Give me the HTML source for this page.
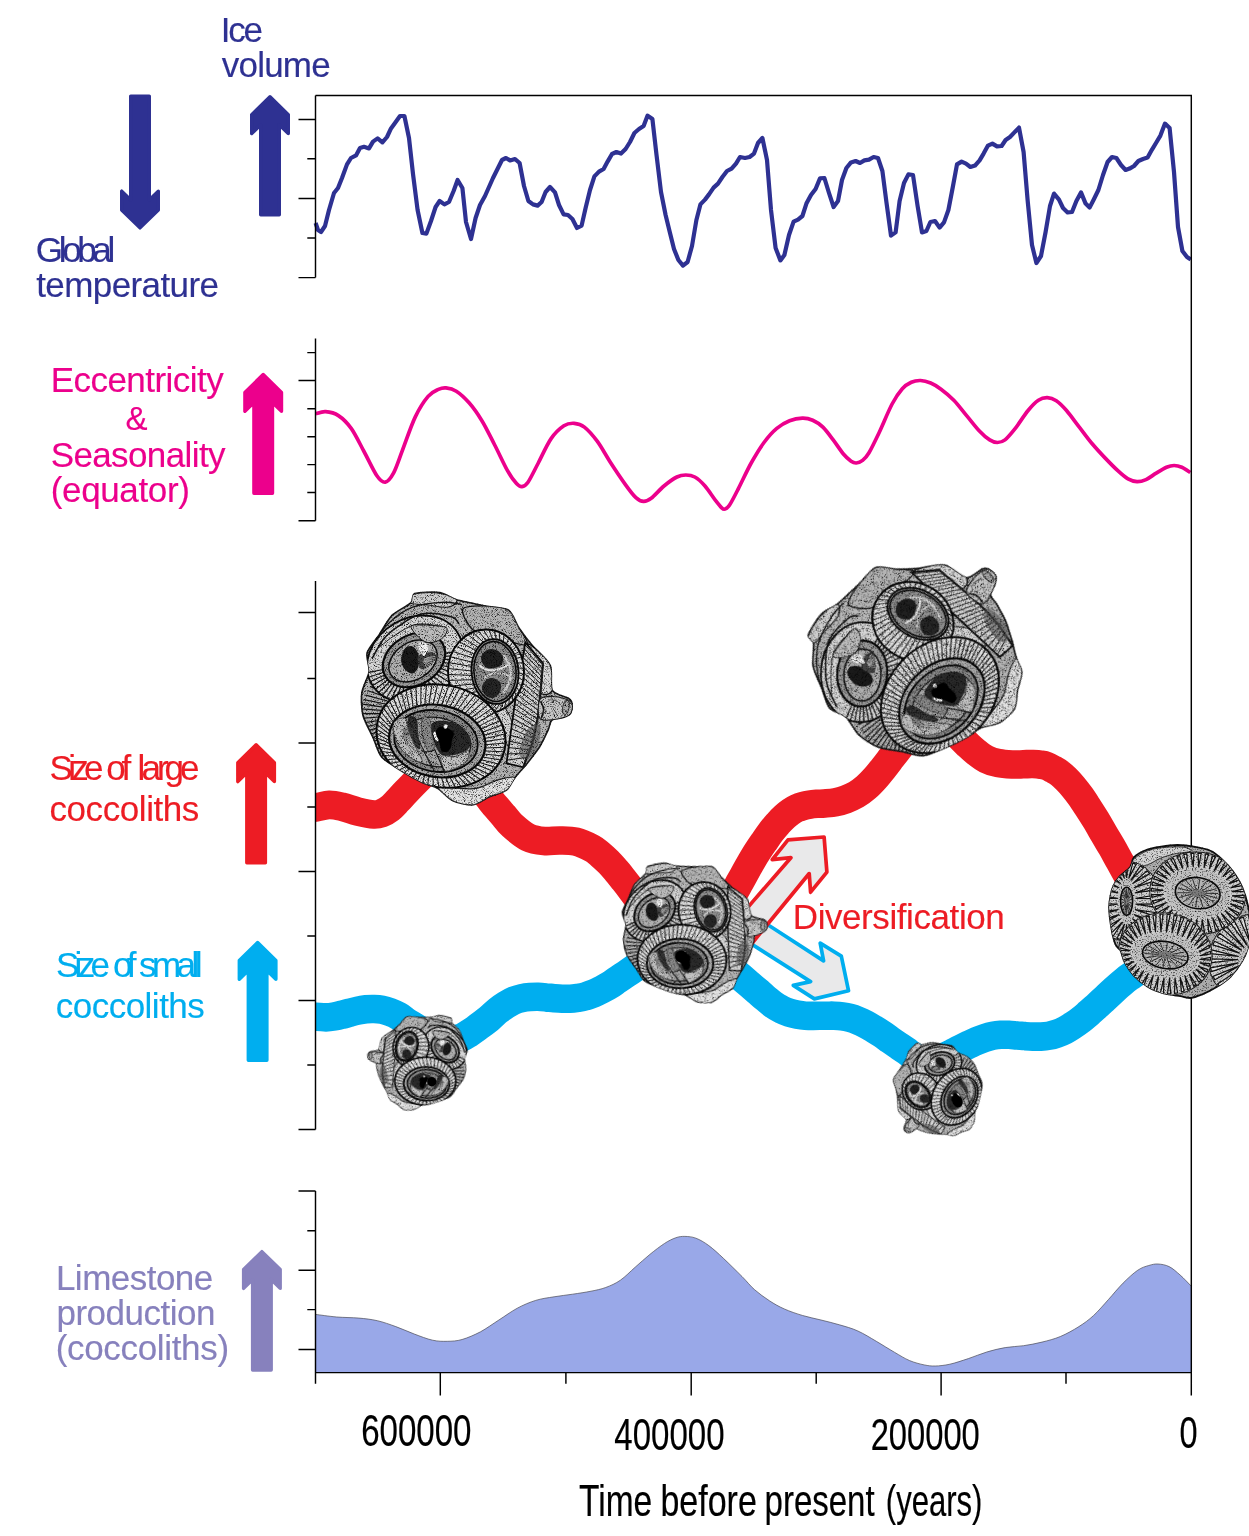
<!DOCTYPE html>
<html lang="en"><head><meta charset="utf-8"><title>Coccolith size, orbital eccentricity and ice volume</title>
<style>html,body{margin:0;padding:0;background:#fff;overflow:hidden}svg{display:block}</style></head>
<body>
<svg width="1249" height="1536" viewBox="0 0 1249 1536" font-family="'Liberation Sans', sans-serif">
<defs><filter id="grain" x="-10%" y="-10%" width="120%" height="120%" color-interpolation-filters="sRGB">
<feTurbulence type="fractalNoise" baseFrequency="1.1" numOctaves="2" seed="7" result="n"/>
<feColorMatrix in="n" type="matrix" values="0 0 0 0 0  0 0 0 0 0  0 0 0 0 0  3.0 0 0 0 -1.5" result="a"/>
<feComposite in="a" in2="SourceGraphic" operator="in" result="b"/>
<feMerge><feMergeNode in="SourceGraphic"/><feMergeNode in="b"/></feMerge>
</filter><filter id="grainB" x="-10%" y="-10%" width="120%" height="120%" color-interpolation-filters="sRGB">
<feTurbulence type="fractalNoise" baseFrequency="1.1" numOctaves="2" seed="11" result="n"/>
<feColorMatrix in="n" type="matrix" values="0 0 0 0 0  0 0 0 0 0  0 0 0 0 0  3.0 0 0 0 -1.5" result="a"/>
<feComposite in="a" in2="SourceGraphic" operator="in" result="b"/>
<feMerge><feMergeNode in="SourceGraphic"/><feMergeNode in="b"/></feMerge>
</filter><filter id="grainM" x="-10%" y="-10%" width="120%" height="120%" color-interpolation-filters="sRGB">
<feTurbulence type="fractalNoise" baseFrequency="0.8" numOctaves="2" seed="5" result="n"/>
<feColorMatrix in="n" type="matrix" values="0 0 0 0 0  0 0 0 0 0  0 0 0 0 0  2.6 0 0 0 -1.35" result="a"/>
<feComposite in="a" in2="SourceGraphic" operator="in" result="b"/>
<feMerge><feMergeNode in="SourceGraphic"/><feMergeNode in="b"/></feMerge>
</filter><filter id="grainS" x="-10%" y="-10%" width="120%" height="120%" color-interpolation-filters="sRGB">
<feTurbulence type="fractalNoise" baseFrequency="0.55" numOctaves="2" seed="3" result="n"/>
<feColorMatrix in="n" type="matrix" values="0 0 0 0 0  0 0 0 0 0  0 0 0 0 0  2.2 0 0 0 -1.15" result="a"/>
<feComposite in="a" in2="SourceGraphic" operator="in" result="b"/>
<feMerge><feMergeNode in="SourceGraphic"/><feMergeNode in="b"/></feMerge>
</filter><radialGradient id="sg" cx="0.45" cy="0.45" r="0.6"><stop offset="0" stop-color="#c4c4c4"/><stop offset="0.75" stop-color="#b4b4b4"/><stop offset="1" stop-color="#9c9c9c"/></radialGradient><clipPath id="csph"><path d="M-45.1,-106.5 C-41.5,-107.8 -25.3,-108.3 -20.1,-107.5 C-14.9,-106.7 -9.1,-101.9 -3.4,-100.2 C2.3,-98.5 19.2,-95.3 25.7,-94 C32.2,-92.7 44.4,-92.5 48.6,-89.8 C52.8,-87.1 56.1,-76.4 59,-72.1 C61.9,-67.8 67.6,-60.2 71.5,-55.5 C75.4,-50.8 87.6,-40.4 90.2,-34.7 C92.8,-29 89.9,-13.9 92.3,-9.7 C94.6,-5.5 106.5,-3.1 109,-1.3 C111.5,0.5 112.1,2.9 112.1,4.9 C112.1,6.8 111.5,12.5 109,14.3 C106.5,16.1 94.9,17.5 92.3,19.5 C89.7,21.5 89.8,26.5 88.2,29.9 C86.6,33.3 82.4,42.3 79.8,46.5 C77.2,50.7 70.4,59.3 67.3,63.2 C64.2,67.1 57.5,74.3 54.9,77.7 C52.3,81.1 49.6,87.9 46.5,90.2 C43.4,92.6 34.1,94.7 29.9,96.5 C25.7,98.3 17.9,104.3 13.2,104.8 C8.5,105.3 -3.2,102.7 -7.6,100.6 C-12,98.5 -18.6,90.4 -22.2,88.2 C-25.8,86 -32.3,85.1 -36.7,83 C-41.1,80.9 -52.4,74.8 -57.6,71.5 C-62.8,68.2 -74.8,61.1 -78.4,56.9 C-82,52.7 -84.4,43.4 -86.7,38.2 C-89,33 -95.7,21 -97.1,15.3 C-98.5,9.6 -98.9,-2.1 -98.1,-7.6 C-97.3,-13.1 -91.5,-23.5 -90.9,-28.4 C-90.2,-33.3 -94.2,-42.4 -92.9,-47.1 C-91.6,-51.8 -83.5,-61.2 -80.4,-65.9 C-77.3,-70.6 -71.9,-80.7 -68,-84.6 C-64.1,-88.5 -52.1,-94.4 -49.2,-97.1 C-46.3,-99.8 -48.7,-105.2 -45.1,-106.5Z"/></clipPath>
<g id="sph">
<path d="M-45.1,-106.5 C-41.5,-107.8 -25.3,-108.3 -20.1,-107.5 C-14.9,-106.7 -9.1,-101.9 -3.4,-100.2 C2.3,-98.5 19.2,-95.3 25.7,-94 C32.2,-92.7 44.4,-92.5 48.6,-89.8 C52.8,-87.1 56.1,-76.4 59,-72.1 C61.9,-67.8 67.6,-60.2 71.5,-55.5 C75.4,-50.8 87.6,-40.4 90.2,-34.7 C92.8,-29 89.9,-13.9 92.3,-9.7 C94.6,-5.5 106.5,-3.1 109,-1.3 C111.5,0.5 112.1,2.9 112.1,4.9 C112.1,6.8 111.5,12.5 109,14.3 C106.5,16.1 94.9,17.5 92.3,19.5 C89.7,21.5 89.8,26.5 88.2,29.9 C86.6,33.3 82.4,42.3 79.8,46.5 C77.2,50.7 70.4,59.3 67.3,63.2 C64.2,67.1 57.5,74.3 54.9,77.7 C52.3,81.1 49.6,87.9 46.5,90.2 C43.4,92.6 34.1,94.7 29.9,96.5 C25.7,98.3 17.9,104.3 13.2,104.8 C8.5,105.3 -3.2,102.7 -7.6,100.6 C-12,98.5 -18.6,90.4 -22.2,88.2 C-25.8,86 -32.3,85.1 -36.7,83 C-41.1,80.9 -52.4,74.8 -57.6,71.5 C-62.8,68.2 -74.8,61.1 -78.4,56.9 C-82,52.7 -84.4,43.4 -86.7,38.2 C-89,33 -95.7,21 -97.1,15.3 C-98.5,9.6 -98.9,-2.1 -98.1,-7.6 C-97.3,-13.1 -91.5,-23.5 -90.9,-28.4 C-90.2,-33.3 -94.2,-42.4 -92.9,-47.1 C-91.6,-51.8 -83.5,-61.2 -80.4,-65.9 C-77.3,-70.6 -71.9,-80.7 -68,-84.6 C-64.1,-88.5 -52.1,-94.4 -49.2,-97.1 C-46.3,-99.8 -48.7,-105.2 -45.1,-106.5Z" fill="url(#sg)" stroke="#1a1a1a" stroke-width="1.6" stroke-linejoin="round"/>
<g clip-path="url(#csph)">
<path d="M-60.7,66.2L-66.2,79.6M-63.8,63.7L-70.4,76.9M-66.7,60.9L-74.4,74M-69.4,58L-78.2,70.7M-71.9,55L-81.7,67.3M-74.1,51.8L-85,63.5M-76,48.6L-88,59.6M-77.7,45.2L-90.6,55.5M-79.1,41.8L-93,51.2M-80.2,38.3L-95,46.8M-81,34.7L-96.7,42.3M-81.5,31.2L-98.1,37.6M-81.7,27.6L-99.1,32.9M-81.6,24L-99.7,28.1M-81.2,20.5L-100,23.3M-80.6,17L-99.9,18.5M-79.6,13.6L-99.5,13.7M-78.3,10.3L-98.7,8.9M-76.8,7.1L-97.5,4.2M-74.9,4L-96,-0.4M-72.8,1L-94.1,-4.9M-70.5,-1.9L-92,-9.2M-67.9,-4.6L-89.5,-13.4M-65.1,-7.1L-86.6,-17.5M-62,-9.4L-83.5,-21.3M-58.8,-11.5L-80.1,-24.9M-55.4,-13.4L-76.5,-28.3M-51.8,-15.1L-72.6,-31.4M-48,-16.6L-68.5,-34.2M-44.2,-17.8L-64.2,-36.8M-40.2,-18.8L-59.7,-39.1M-36.1,-19.6L-55,-41" fill="none" stroke="#161616" stroke-width="1.2" stroke-linecap="round"/>
<path d="M-47.4,-94.8 C-45.8,-96.3 -42.6,-101.6 -37.8,-103.5 C-33,-105.4 -24.1,-106.5 -18.5,-106.4 C-12.9,-106.2 -6.5,-103.2 -4.1,-102.5" fill="none" stroke="#161616" stroke-width="1.0" stroke-linecap="round" />
<path d="M0.7,-91.9 C1.9,-90.5 6,-85.5 8.4,-83.3 C10.7,-81.1 13.9,-79.3 15,-78.5" fill="none" stroke="#161616" stroke-width="1.0" stroke-linecap="round" />
<path d="M26.7,-91 C29.7,-90 40,-87 45,-85.2 C49.9,-83.5 55.8,-79.6 56.5,-80.4 C57.1,-81.2 50.1,-88.4 48.8,-90" fill="none" stroke="#161616" stroke-width="0.9" stroke-linecap="round" />
<path d="M0.8,-91 C3,-88.6 9.9,-79.3 14.2,-76.6 C18.5,-73.9 24.6,-75 26.7,-74.7" fill="none" stroke="#161616" stroke-width="0.9" stroke-linecap="round" />
<path d="M2.8,-90.9 C4.9,-94.8 18.1,-94.2 25.7,-94 C33.3,-93.8 43.1,-93.5 48.6,-89.8 C54.2,-86.2 55.9,-77.8 59,-72.1 C62.1,-66.4 69.4,-57.6 67.3,-55.5 C65.3,-53.4 52.8,-57.6 46.5,-59.6 C40.3,-61.7 35.4,-66.2 29.9,-68 C24.3,-69.7 17.7,-66.2 13.2,-70 C8.7,-73.9 0.7,-86.9 2.8,-90.9Z" fill="#b4b4b4" stroke="#111" stroke-width="1.3" stroke-linejoin="round" />
<path d="M67.3,-55.5 C68.4,-58.2 76,-50.6 79.8,-47.1 C83.6,-43.7 88.2,-40.9 90.2,-34.7 C92.3,-28.4 94.1,-14.2 92.3,-9.7 C90.6,-5.2 83,-4.1 79.8,-7.6 C76.7,-11.1 75.7,-22.5 73.6,-30.5 C71.5,-38.5 66.3,-52.7 67.3,-55.5Z" fill="#d8d8d8" stroke="#111" stroke-width="1.3" stroke-linejoin="round" />
<path d="M-22.2,86.1 C-22.9,88.2 -13.5,97.5 -7.6,100.6 C-1.7,103.8 7,105.5 13.2,104.8 C19.5,104.1 24.3,98.9 29.9,96.5 C35.4,94.1 42.4,93.4 46.5,90.2 C50.7,87.1 56.2,79.5 54.9,77.8 C53.5,76 44.4,78.1 38.2,79.8 C32,81.6 24.3,86.8 17.4,88.2 C10.4,89.5 3.2,88.5 -3.4,88.2 C-10,87.8 -21.5,84 -22.2,86.1Z" fill="#e2e2e2" stroke="#222" stroke-width="1.2" stroke-linejoin="round" />
<path d="M-47.1,-105.4 C-42.6,-107.1 -29.5,-108 -22.2,-107.1 C-14.9,-106.2 -5.2,-102.6 -3.4,-100.2 C-1.7,-97.9 -6.9,-93.8 -11.8,-92.9 C-16.6,-92.1 -26.3,-94.3 -32.6,-95 C-38.8,-95.7 -46.8,-95.4 -49.2,-97.1 C-51.7,-98.8 -51.7,-103.8 -47.1,-105.4Z" fill="#cdcdcd" stroke="#222" stroke-width="1.1" stroke-linejoin="round" />
<path d="M25.7,-3.4 C27.1,-4.8 37.9,0 42.4,4.9 C46.9,9.8 51.7,18.8 52.8,25.7 C53.8,32.7 50.3,45.8 48.6,46.5 C46.9,47.2 44.8,35.4 42.4,29.9 C39.9,24.3 36.8,18.8 34,13.2 C31.3,7.7 24.3,-2 25.7,-3.4Z" fill="#d6d6d6" stroke="#222" stroke-width="1.0" stroke-linejoin="round" />
<ellipse cx="-45" cy="-41" rx="50" ry="41" transform="rotate(-30 -45 -41)" fill="#d6d6d6" stroke="#0a0a0a" stroke-width="1.8" />
<path d="M-14.8,-46.6L2.9,-50M-15,-43.6L2.8,-45.2M-15.5,-40.6L2.1,-40.3M-16.5,-37.5L0.8,-35.4M-17.8,-34.5L-1.1,-30.7M-19.5,-31.6L-3.5,-26M-21.5,-28.7L-6.5,-21.5M-23.8,-26L-9.9,-17.3M-26.4,-23.5L-13.8,-13.4M-29.2,-21.2L-18,-9.8M-32.3,-19.1L-22.6,-6.6M-35.5,-17.3L-27.5,-3.9M-38.8,-15.7L-32.6,-1.6M-42.3,-14.5L-37.9,0.2M-45.8,-13.6L-43.2,1.5M-49.3,-13L-48.6,2.2M-52.7,-12.8L-53.9,2.4M-56.1,-12.9L-59.1,2.1M-59.3,-13.3L-64.2,1.2M-62.4,-14.1L-69,-0.2M-65.3,-15.2L-73.5,-2.2M-67.9,-16.6L-77.6,-4.6M-70.2,-18.4L-81.3,-7.5M-72.3,-20.3L-84.6,-10.8M-74,-22.6L-87.4,-14.5M-75.4,-25L-89.6,-18.5M-76.4,-27.7L-91.3,-22.8M-77,-30.5L-92.4,-27.3" fill="none" stroke="#161616" stroke-width="1.2" stroke-linecap="round"/>
<path d="M-93.5,-47.8 C-89.8,-52.6 -79.1,-69.1 -71.4,-76.6 C-63.7,-84.1 -56.2,-89.4 -47.4,-92.9 C-38.6,-96.4 -26.5,-97.2 -18.5,-97.7 C-10.5,-98.2 -2.5,-96.1 0.7,-95.8" fill="none" stroke="#161616" stroke-width="1.3" stroke-linecap="round" />
<path d="M-87.7,-42 C-85.8,-45.2 -80.5,-55.9 -76.2,-61.2 C-71.9,-66.5 -68.2,-69.5 -61.8,-73.7 C-55.4,-77.9 -46.6,-84.6 -37.8,-86.2 C-29,-87.8 -15,-84.9 -8.9,-83.3 C-2.9,-81.7 -2.5,-77.7 -1.3,-76.6" fill="none" stroke="#161616" stroke-width="1.6" stroke-linecap="round" />
<path d="M-81,-52.6 C-78.3,-54.6 -70.9,-61.2 -64.7,-65 C-58.4,-68.9 -51.2,-74.2 -43.5,-75.6 C-35.8,-77.1 -22.7,-74 -18.5,-73.7" fill="none" stroke="#161616" stroke-width="1.0" stroke-linecap="round" />
<ellipse cx="-46" cy="-40" rx="33" ry="25" transform="rotate(-30 -46 -40)" fill="#999" stroke="#0a0a0a" stroke-width="2.2" />
<ellipse cx="-47" cy="-39" rx="26" ry="18.5" transform="rotate(-32 -47 -39)" fill="#b0b0b0" stroke="#111" stroke-width="1.5" />
<path d="M-47.4,-74.7 C-43.2,-76.1 -24.3,-74.5 -18.5,-73.7 C-12.8,-72.9 -12.8,-71.9 -12.8,-69.9 C-12.8,-67.8 -15.3,-63.3 -18.5,-61.2 C-21.7,-59.1 -27.8,-56.7 -32,-57.4 C-36.2,-58 -41,-62.2 -43.5,-65 C-46.1,-67.9 -51.5,-73.2 -47.4,-74.7Z" fill="#bdbdbd" stroke="#161616" stroke-width="1.0" stroke-linejoin="round" />
<path d="M-55,-51.6 C-53.1,-53.8 -49.6,-54.5 -47.4,-53.5 C-45.1,-52.6 -42.6,-49.2 -41.6,-45.8 C-40.6,-42.5 -40.6,-36.5 -41.6,-33.3 C-42.6,-30.1 -45.1,-27.1 -47.4,-26.6 C-49.6,-26.1 -53.1,-28.2 -55,-30.5 C-57,-32.7 -58.9,-36.5 -58.9,-40.1 C-58.9,-43.6 -57,-49.4 -55,-51.6Z" fill="#1a1a1a" stroke="none" stroke-width="0.0" stroke-linejoin="round" />
<path d="M-41.6,-43.9 C-39.7,-46.6 -31.2,-48.1 -28.2,-47.8 C-25.1,-47.4 -22.7,-44.4 -23.3,-42 C-24,-39.6 -29.3,-35.1 -32,-33.3 C-34.7,-31.6 -38.1,-29.7 -39.7,-31.4 C-41.3,-33.2 -43.5,-41.2 -41.6,-43.9Z" fill="#444" stroke="none" stroke-width="0.0" stroke-linejoin="round" />
<path d="M-35.1,-41.7L-25.4,-43.6M-35,-41L-25,-41.1M-35.1,-40.4L-25.3,-38.7M-35.3,-39.7L-26.2,-36.4M-35.6,-39.2L-27.7,-34.2M-36.1,-38.7L-29.8,-32.5M-36.7,-38.3L-32.2,-31.1" fill="none" stroke="#ddd" stroke-width="0.7" stroke-linecap="round"/>
<path d="M-39.7,-57.4 C-38.4,-58 -35.2,-57.4 -33.9,-56.4 C-32.6,-55.4 -31.7,-53.7 -32,-51.6 C-32.3,-49.5 -34.7,-44.6 -35.8,-43.9 C-37,-43.3 -37.8,-46.3 -38.7,-47.8 C-39.7,-49.2 -41.4,-51 -41.6,-52.6 C-41.8,-54.2 -41,-56.7 -39.7,-57.4Z" fill="#f2f2f2" stroke="none" stroke-width="0.0" stroke-linejoin="round" />
<path d="M65.3,-57.6 C64.6,-53.4 62.7,-41.6 61.1,-32.6 C59.5,-23.6 57.5,-13.1 55.9,-3.4 C54.3,6.3 53.3,14.6 51.7,25.7 C50.2,36.8 47.4,56.9 46.5,63.2 L63.2,67.3 L72.5,42.4 L77.8,17.4 L80.9,-11.8 L83,-36.7Z" fill="#d4d4d4" stroke="#0a0a0a" stroke-width="1.8"/>
<path d="M64.9,-55.5L82.8,-34.8M64.2,-51.3L82.5,-31M63.5,-47.1L82.2,-27.2M62.8,-43L81.8,-23.3M62.1,-38.8L81.5,-19.5M61.4,-34.7L81.2,-15.7M60.7,-30.1L80.9,-11.8M59.8,-25.3L80.4,-7.4M58.9,-20.4L79.9,-2.9M58.1,-15.6L79.4,1.6M57.2,-10.7L79,6M56.3,-5.9L78.5,10.5M55.5,-1L78,15M54.9,3.9L77.4,19.1M54.2,8.7L76.6,23M53.5,13.6L75.8,26.8M52.8,18.4L75,30.6M52.1,23.3L74.2,34.5M51.3,28.8L73.4,38.3M50.4,35.1L72.6,42.1M49.6,41.3L71.2,45.9M48.7,47.6L69.8,49.8M47.8,53.8L68.3,53.6M47,60.1L66.9,57.4" fill="none" stroke="#1a1a1a" stroke-width="1.0"/>
<path d="M83,-36.7 C82.6,-32.6 81.7,-20.8 80.9,-11.8 C80,-2.7 79.1,8.4 77.8,17.4 C76.4,26.4 75,34 72.5,42.4 C70.1,50.7 64.7,63.2 63.2,67.3" fill="none" stroke="#222" stroke-width="2.2" stroke-linecap="round" opacity="0.7"/>
<path d="M67.3,29.9 C70.8,25.4 78.1,22.9 79.8,25.7 C81.6,28.5 79.8,41 77.8,46.5 C75.7,52.1 70.5,58 67.3,59 C64.2,60.1 59,57.6 59,52.8 C59,47.9 63.9,34.4 67.3,29.9Z" fill="#555" stroke="none" stroke-width="0.0" stroke-linejoin="round" opacity="0.6"/>
<ellipse cx="26" cy="-28.5" rx="38" ry="42" transform="rotate(0 26 -28.5)" fill="#dedede" stroke="#050505" stroke-width="1.9" />
<path d="M56.1,-28.2L63.9,-25.5M56,-23.9L63.1,-19.6M55.5,-19.8L61.6,-13.8M54.6,-15.8L59.4,-8.4M53.3,-12.1L56.4,-3.3M51.6,-8.7L52.9,1.2M49.6,-5.7L48.8,5.1M47.3,-3.1L44.2,8.4M44.8,-1.1L39.3,10.9M42,0.3L34.1,12.5M39.1,1.2L28.7,13.4M36.1,1.4L23.3,13.4M33.1,1.1L17.9,12.5M30.1,0.1L12.7,10.9M27.3,-1.4L7.8,8.4M24.6,-3.5L3.2,5.1M22.1,-6.1L-0.9,1.2M19.8,-9.1L-4.4,-3.3M17.9,-12.6L-7.4,-8.4M16.3,-16.3L-9.6,-13.8M15.1,-20.4L-11.1,-19.6M14.3,-24.5L-11.9,-25.5M13.9,-28.8L-11.9,-31.5M14,-33.1L-11.1,-37.4M14.5,-37.2L-9.6,-43.2M15.4,-41.2L-7.4,-48.6M16.7,-44.9L-4.4,-53.7M18.4,-48.3L-0.9,-58.2M20.4,-51.3L3.2,-62.1M22.7,-53.9L7.8,-65.4M25.2,-55.9L12.7,-67.9M28,-57.3L17.9,-69.5M30.9,-58.2L23.3,-70.4M33.9,-58.4L28.7,-70.4M36.9,-58.1L34.1,-69.5M39.9,-57.1L39.3,-67.9M42.7,-55.6L44.2,-65.4M45.4,-53.5L48.8,-62.1M47.9,-50.9L52.9,-58.2M50.2,-47.9L56.4,-53.7M52.1,-44.4L59.4,-48.6M53.7,-40.7L61.6,-43.2M54.9,-36.6L63.1,-37.4M55.7,-32.5L63.9,-31.5" fill="none" stroke="#1a1a1a" stroke-width="1.0" stroke-linecap="round"/>
<ellipse cx="35" cy="-28.5" rx="23.5" ry="32.5" transform="rotate(-5 35 -28.5)" fill="#999" stroke="#0a0a0a" stroke-width="1.8" />
<ellipse cx="35" cy="-28.5" rx="21" ry="30" transform="rotate(-5 35 -28.5)" fill="#8e8e8e" stroke="#0a0a0a" stroke-width="1.5" />
<path d="M21,-42 C21,-45 24.5,-48.7 27,-50 C29.5,-51.3 33.3,-51.2 36,-50 C38.7,-48.8 42.3,-45.7 43,-43 C43.7,-40.3 42.7,-35.8 40,-34 C37.3,-32.2 30.2,-30.7 27,-32 C23.8,-33.3 21,-39 21,-42Z" fill="#202020" stroke="none" stroke-width="0.0" stroke-linejoin="round" />
<path d="M22,-14 C22.8,-16.8 27,-21.3 30,-22 C33,-22.7 38.3,-20.3 40,-18 C41.7,-15.7 41.2,-10.7 40,-8 C38.8,-5.3 35.5,-2.5 33,-2 C30.5,-1.5 26.8,-3 25,-5 C23.2,-7 21.2,-11.2 22,-14Z" fill="#262626" stroke="none" stroke-width="0.0" stroke-linejoin="round" />
<path d="M20,-34 C21.3,-33.3 24.7,-30.5 28,-30 C31.3,-29.5 36.3,-30 40,-31 C43.7,-32 48.3,-35.2 50,-36" fill="none" stroke="#e6e6e6" stroke-width="2.0" stroke-linecap="round" />
<path d="M24,-22 C25.7,-22.8 30.7,-26.3 34,-27 C37.3,-27.7 41,-26.8 44,-26 C47,-25.2 50.7,-22.7 52,-22" fill="none" stroke="#d6d6d6" stroke-width="1.6" stroke-linecap="round" />
<path d="M44,-44 C45,-42.3 49,-38 50,-34 C51,-30 51,-24.3 50,-20 C49,-15.7 45,-10 44,-8" fill="none" stroke="#cfcfcf" stroke-width="2.5" stroke-linecap="round" />
<ellipse cx="-19" cy="36" rx="65" ry="51" transform="rotate(12 -19 36)" fill="#e0e0e0" stroke="#050505" stroke-width="2.0" />
<path d="M24.7,51L44.1,51.7M23.8,54L42.7,55.9M22.6,56.9L40.8,60M21,59.7L38.4,63.9M19,62.3L35.7,67.6M16.8,64.8L32.5,71M14.2,67.2L28.9,74.2M11.4,69.3L25,77.1M8.3,71.2L20.7,79.7M5,72.8L16.1,81.9M1.4,74.3L11.3,83.8M-2.3,75.4L6.2,85.3M-6.2,76.3L1,86.5M-10.2,77L-4.5,87.3M-14.3,77.3L-10,87.6M-18.5,77.4L-15.6,87.6M-22.7,77.2L-21.2,87.2M-26.9,76.8L-26.8,86.4M-31,76.1L-32.4,85.2M-35.1,75.1L-37.8,83.7M-39.1,73.8L-43.1,81.8M-43,72.3L-48.2,79.5M-46.8,70.5L-53.1,76.9M-50.3,68.6L-57.8,74M-53.6,66.4L-62.1,70.8M-56.7,64L-66.1,67.3M-59.6,61.4L-69.8,63.6M-62.1,58.7L-73,59.7M-64.4,55.9L-75.9,55.6M-66.3,52.9L-78.3,51.4M-68,49.9L-80.3,47M-69.2,46.8L-81.8,42.6M-70.1,43.6L-82.8,38.1M-70.7,40.5L-83.4,33.6M-70.9,37.3L-83.4,29.1M-70.7,34.1L-83,24.7M-70.1,31L-82.1,20.3M-69.2,28L-80.7,16.1M-68,25.1L-78.8,12M-66.4,22.3L-76.4,8.1M-64.4,19.7L-73.7,4.4M-62.2,17.2L-70.5,1M-59.6,14.8L-66.9,-2.2M-56.8,12.7L-63,-5.1M-53.7,10.8L-58.7,-7.7M-50.4,9.2L-54.1,-9.9M-46.8,7.7L-49.3,-11.8M-43.1,6.6L-44.2,-13.3M-39.2,5.7L-39,-14.5M-35.2,5L-33.5,-15.3M-31.1,4.7L-28,-15.6M-26.9,4.6L-22.4,-15.6M-22.7,4.8L-16.8,-15.2M-18.5,5.2L-11.2,-14.4M-14.4,5.9L-5.6,-13.2M-10.3,6.9L-0.2,-11.7M-6.3,8.2L5.1,-9.8M-2.4,9.7L10.2,-7.5M1.4,11.5L15.1,-4.9M4.9,13.4L19.8,-2M8.2,15.6L24.1,1.2M11.3,18L28.1,4.7M14.2,20.6L31.8,8.4M16.7,23.3L35,12.3M19,26.1L37.9,16.4M20.9,29.1L40.3,20.6M22.6,32.1L42.3,25M23.8,35.2L43.8,29.4M24.7,38.4L44.8,33.9M25.3,41.5L45.4,38.4M25.5,44.7L45.4,42.9M25.3,47.9L45,47.3" fill="none" stroke="#1a1a1a" stroke-width="1.05" stroke-linecap="round"/>
<ellipse cx="-22.7" cy="41" rx="48.5" ry="36" transform="rotate(10 -22.7 41)" fill="#a8a8a8" stroke="#0a0a0a" stroke-width="2.2" />
<ellipse cx="-24" cy="41" rx="42" ry="30.5" transform="rotate(10 -24 41)" fill="#8a8a8a" stroke="#0a0a0a" stroke-width="1.8" />
<ellipse cx="-24" cy="42" rx="35" ry="24.5" transform="rotate(10 -24 42)" fill="#a9a9a9" stroke="#1a1a1a" stroke-width="1.2" />
<path d="M-51.2,17.1 C-49.9,15 -45.1,16 -43.5,19 C-41.9,22.1 -42.2,30.4 -41.6,35.3 C-41,40.3 -39,47.2 -39.7,48.8 C-40.3,50.4 -43.5,47.8 -45.4,45 C-47.4,42.1 -50.2,36.1 -51.2,31.5 C-52.2,26.9 -52.5,19.2 -51.2,17.1Z" fill="#2a2a2a" stroke="none" stroke-width="0.0" stroke-linejoin="round" />
<path d="M-28.2,23.8 C-26.1,20.5 -18.5,20.5 -13.7,20.9 C-8.9,21.4 -3.3,23.8 0.7,26.7 C4.7,29.6 9,34.5 10.3,38.2 C11.6,41.9 10.8,46.1 8.4,48.8 C6,51.5 0.3,53.6 -4.1,54.6 C-8.6,55.5 -14.9,56.8 -18.5,54.6 C-22.2,52.3 -24.6,46.2 -26.2,41.1 C-27.8,36 -30.2,27.2 -28.2,23.8Z" fill="#2a2a2a" stroke="none" stroke-width="0.0" stroke-linejoin="round" />
<path d="M-66.6,23.8 C-65.3,19.7 -57.6,16.8 -55,18.1 C-52.5,19.3 -53.1,26.4 -51.2,31.5 C-49.3,36.6 -45.8,43.7 -43.5,48.8 C-41.3,53.9 -36.5,61 -37.8,62.2 C-39,63.5 -47,59.7 -51.2,56.5 C-55.4,53.3 -60.2,48.5 -62.7,43 C-65.3,37.6 -67.9,28 -66.6,23.8Z" fill="#bdbdbd" stroke="#333" stroke-width="0.8" stroke-linejoin="round" />
<path d="M-18.5,56.5 C-16.6,54.2 -8.6,57.4 -4.1,56.5 C0.3,55.5 6.8,49.8 8.4,50.7 C10,51.7 8.4,59 5.5,62.2 C2.6,65.4 -5.4,68.6 -8.9,69.9 C-12.5,71.2 -14.1,72.2 -15.7,69.9 C-17.3,67.7 -20.5,58.7 -18.5,56.5Z" fill="#c2c2c2" stroke="#333" stroke-width="0.8" stroke-linejoin="round" />
<path d="M-37.8,18.1 C-36.5,15.5 -31.7,17.1 -30.1,20 C-28.5,22.9 -29,30.5 -28.2,35.3 C-27.4,40.1 -24.6,46.2 -25.3,48.8 C-25.9,51.4 -29.9,53 -32,50.7 C-34.1,48.5 -36.8,40.8 -37.8,35.3 C-38.7,29.9 -39,20.6 -37.8,18.1Z" fill="#8a8a8a" stroke="#333" stroke-width="0.6" stroke-linejoin="round" />
<path d="M-24.3,31.5 C-23.8,29.7 -22.2,27.3 -20.5,26.7 C-18.7,26.1 -15.5,27.2 -13.7,27.7 C-12,28.1 -11.2,28.6 -9.9,29.6 C-8.6,30.5 -6.4,31.7 -6.1,33.4 C-5.7,35.2 -7.5,37.9 -8,40.1 C-8.5,42.4 -8.1,45 -8.9,46.9 C-9.7,48.8 -11.2,51 -12.8,51.7 C-14.4,52.3 -17.3,52.2 -18.5,50.7 C-19.8,49.3 -19.7,45.3 -20.5,43 C-21.3,40.8 -22.7,39.2 -23.3,37.3 C-24,35.3 -24.8,33.3 -24.3,31.5Z" fill="#000" stroke="none" stroke-width="0.0" stroke-linejoin="round" />
<path d="M-26.7,33.4 C-26.5,32.5 -25.3,31 -24.8,31.5 C-24.2,32 -23.9,34.9 -23.3,36.3 C-22.8,37.7 -21.4,39.3 -21.4,40.1 C-21.4,40.9 -22.6,41.6 -23.3,41.1 C-24.1,40.6 -25.2,38.5 -25.7,37.3 C-26.3,36 -26.9,34.4 -26.7,33.4Z" fill="#fff" stroke="none" stroke-width="0.0" stroke-linejoin="round" />
<path d="M-15.7,24.8 C-15,24.3 -12.6,24.6 -12.3,25.3 C-12,25.9 -13.1,28.1 -13.7,28.6 C-14.4,29.1 -15.8,28.8 -16.1,28.1 C-16.5,27.5 -16.3,25.3 -15.7,24.8Z" fill="#f0f0f0" stroke="none" stroke-width="0.0" stroke-linejoin="round" />
<path d="M-51.2,19 C-49.9,21.7 -46.1,29.9 -43.5,35.3 C-41,40.8 -38.4,46.2 -35.8,51.7 C-33.3,57.1 -29.4,65.3 -28.2,68" fill="none" stroke="#161616" stroke-width="1.0" stroke-linecap="round" />
<path d="M-38.7,50.7 C-37.6,50.9 -34.2,51.8 -32,51.7 C-29.8,51.5 -26.4,50.1 -25.3,49.8" fill="none" stroke="#161616" stroke-width="0.9" stroke-linecap="round" />
<path d="M-25.3,49.8 C-24.5,51.5 -22.1,56.6 -20.5,60.3 C-18.9,64 -16.5,69.9 -15.7,71.8" fill="none" stroke="#161616" stroke-width="1.1" stroke-linecap="round" />
<path d="M-35.8,52.6 C-34.9,54.1 -31.8,58.1 -30.1,61.3 C-28.3,64.5 -26.1,70.1 -25.3,71.8" fill="none" stroke="#161616" stroke-width="0.9" stroke-linecap="round" />
<path d="M-57.7,29.7L-47.6,19.5M-57.3,30.1L-45,21.3M-56.9,30.5L-42.8,23.5M-56.5,31L-40.9,26M-56.3,31.5L-39.5,28.7M-56.1,32.1L-38.6,31.5M-56,32.7L-38.1,34.5M-56,33.3L-38.1,37.5M-56.1,33.9L-38.6,40.5M-56.3,34.5L-39.5,43.3M-56.5,35L-40.9,46M-56.9,35.5L-42.8,48.5M-57.3,35.9L-45,50.7M-57.7,36.3L-47.6,52.5" fill="none" stroke="#555" stroke-width="0.6" stroke-linecap="round"/>
</g>
<path d="M79.8,-0.3 C81.6,-4 86.1,-3.3 90.2,-3.4 C94.4,-3.6 101.3,-2.4 104.8,-1.3 C108.4,-0.3 110.3,1.1 111.5,2.8 C112.7,4.5 112.5,7 112.1,9.1 C111.7,11.1 111.9,13.6 109,15.3 C106,17 99.3,18.9 94.4,19.5 C89.5,20 82.3,21.7 79.8,18.4 C77.4,15.1 78.1,3.3 79.8,-0.3Z" fill="#c6c6c6" stroke="#1e1e1e" stroke-width="1.1" stroke-linejoin="round" />
<ellipse cx="105.9" cy="7.4" rx="3.2" ry="7.5" transform="rotate(10 105.9 7.4)" fill="#aaa" stroke="#222" stroke-width="0.9" />
<path d="M80.9,1.8 C81.3,3 83.5,6.4 83.6,9.1 C83.7,11.7 81.8,16.3 81.5,17.8" fill="none" stroke="#1a1a1a" stroke-width="1.6" stroke-linecap="round" />
<path d="M88.2,-0.3 C89.5,-0.1 94.4,-0.1 96.5,0.7 C98.6,1.6 100,4.2 100.6,4.9" fill="none" stroke="#444" stroke-width="0.8" stroke-linecap="round" />
</g><clipPath id="csphM"><path d="M-45.1,-106.5 C-41.5,-107.8 -25.3,-108.3 -20.1,-107.5 C-14.9,-106.7 -9.1,-101.9 -3.4,-100.2 C2.3,-98.5 19.2,-95.3 25.7,-94 C32.2,-92.7 44.4,-92.5 48.6,-89.8 C52.8,-87.1 56.1,-76.4 59,-72.1 C61.9,-67.8 67.6,-60.2 71.5,-55.5 C75.4,-50.8 87.6,-40.4 90.2,-34.7 C92.8,-29 89.9,-13.9 92.3,-9.7 C94.6,-5.5 106.5,-3.1 109,-1.3 C111.5,0.5 112.1,2.9 112.1,4.9 C112.1,6.8 111.5,12.5 109,14.3 C106.5,16.1 94.9,17.5 92.3,19.5 C89.7,21.5 89.8,26.5 88.2,29.9 C86.6,33.3 82.4,42.3 79.8,46.5 C77.2,50.7 70.4,59.3 67.3,63.2 C64.2,67.1 57.5,74.3 54.9,77.7 C52.3,81.1 49.6,87.9 46.5,90.2 C43.4,92.6 34.1,94.7 29.9,96.5 C25.7,98.3 17.9,104.3 13.2,104.8 C8.5,105.3 -3.2,102.7 -7.6,100.6 C-12,98.5 -18.6,90.4 -22.2,88.2 C-25.8,86 -32.3,85.1 -36.7,83 C-41.1,80.9 -52.4,74.8 -57.6,71.5 C-62.8,68.2 -74.8,61.1 -78.4,56.9 C-82,52.7 -84.4,43.4 -86.7,38.2 C-89,33 -95.7,21 -97.1,15.3 C-98.5,9.6 -98.9,-2.1 -98.1,-7.6 C-97.3,-13.1 -91.5,-23.5 -90.9,-28.4 C-90.2,-33.3 -94.2,-42.4 -92.9,-47.1 C-91.6,-51.8 -83.5,-61.2 -80.4,-65.9 C-77.3,-70.6 -71.9,-80.7 -68,-84.6 C-64.1,-88.5 -52.1,-94.4 -49.2,-97.1 C-46.3,-99.8 -48.7,-105.2 -45.1,-106.5Z"/></clipPath>
<g id="sphM">
<path d="M-45.1,-106.5 C-41.5,-107.8 -25.3,-108.3 -20.1,-107.5 C-14.9,-106.7 -9.1,-101.9 -3.4,-100.2 C2.3,-98.5 19.2,-95.3 25.7,-94 C32.2,-92.7 44.4,-92.5 48.6,-89.8 C52.8,-87.1 56.1,-76.4 59,-72.1 C61.9,-67.8 67.6,-60.2 71.5,-55.5 C75.4,-50.8 87.6,-40.4 90.2,-34.7 C92.8,-29 89.9,-13.9 92.3,-9.7 C94.6,-5.5 106.5,-3.1 109,-1.3 C111.5,0.5 112.1,2.9 112.1,4.9 C112.1,6.8 111.5,12.5 109,14.3 C106.5,16.1 94.9,17.5 92.3,19.5 C89.7,21.5 89.8,26.5 88.2,29.9 C86.6,33.3 82.4,42.3 79.8,46.5 C77.2,50.7 70.4,59.3 67.3,63.2 C64.2,67.1 57.5,74.3 54.9,77.7 C52.3,81.1 49.6,87.9 46.5,90.2 C43.4,92.6 34.1,94.7 29.9,96.5 C25.7,98.3 17.9,104.3 13.2,104.8 C8.5,105.3 -3.2,102.7 -7.6,100.6 C-12,98.5 -18.6,90.4 -22.2,88.2 C-25.8,86 -32.3,85.1 -36.7,83 C-41.1,80.9 -52.4,74.8 -57.6,71.5 C-62.8,68.2 -74.8,61.1 -78.4,56.9 C-82,52.7 -84.4,43.4 -86.7,38.2 C-89,33 -95.7,21 -97.1,15.3 C-98.5,9.6 -98.9,-2.1 -98.1,-7.6 C-97.3,-13.1 -91.5,-23.5 -90.9,-28.4 C-90.2,-33.3 -94.2,-42.4 -92.9,-47.1 C-91.6,-51.8 -83.5,-61.2 -80.4,-65.9 C-77.3,-70.6 -71.9,-80.7 -68,-84.6 C-64.1,-88.5 -52.1,-94.4 -49.2,-97.1 C-46.3,-99.8 -48.7,-105.2 -45.1,-106.5Z" fill="url(#sg)" stroke="#1a1a1a" stroke-width="1.6" stroke-linejoin="round"/>
<g clip-path="url(#csphM)">
<path d="M-61.1,65.9L-66.7,79.4M-64.9,62.7L-71.8,75.9M-68.3,59.3L-76.6,72.1M-71.4,55.6L-81.1,67.9M-74.2,51.7L-85.1,63.4M-76.5,47.7L-88.7,58.5M-78.4,43.5L-91.9,53.4M-79.9,39.2L-94.5,48M-81,34.9L-96.7,42.4M-81.6,30.5L-98.3,36.7M-81.7,26.1L-99.4,30.9M-81.4,21.7L-99.9,25M-80.7,17.4L-99.9,19M-79.4,13.2L-99.4,13.1M-77.8,9.2L-98.3,7.3M-75.7,5.3L-96.7,1.6M-73.3,1.5L-94.5,-4M-70.4,-2L-91.9,-9.4M-67.2,-5.2L-88.7,-14.5M-63.6,-8.2L-85.1,-19.4M-59.7,-10.9L-81.1,-23.9M-55.5,-13.3L-76.6,-28.1M-51.1,-15.4L-71.8,-31.9M-46.4,-17.1L-66.7,-35.4M-41.6,-18.5L-61.2,-38.3M-36.6,-19.5L-55.6,-40.8" fill="none" stroke="#161616" stroke-width="1.56" stroke-linecap="round"/>
<path d="M-47.4,-94.8 C-45.8,-96.3 -42.6,-101.6 -37.8,-103.5 C-33,-105.4 -24.1,-106.5 -18.5,-106.4 C-12.9,-106.2 -6.5,-103.2 -4.1,-102.5" fill="none" stroke="#161616" stroke-width="1.3" stroke-linecap="round" />
<path d="M0.7,-91.9 C1.9,-90.5 6,-85.5 8.4,-83.3 C10.7,-81.1 13.9,-79.3 15,-78.5" fill="none" stroke="#161616" stroke-width="1.3" stroke-linecap="round" />
<path d="M26.7,-91 C29.7,-90 40,-87 45,-85.2 C49.9,-83.5 55.8,-79.6 56.5,-80.4 C57.1,-81.2 50.1,-88.4 48.8,-90" fill="none" stroke="#161616" stroke-width="1.17" stroke-linecap="round" />
<path d="M0.8,-91 C3,-88.6 9.9,-79.3 14.2,-76.6 C18.5,-73.9 24.6,-75 26.7,-74.7" fill="none" stroke="#161616" stroke-width="1.17" stroke-linecap="round" />
<path d="M2.8,-90.9 C4.9,-94.8 18.1,-94.2 25.7,-94 C33.3,-93.8 43.1,-93.5 48.6,-89.8 C54.2,-86.2 55.9,-77.8 59,-72.1 C62.1,-66.4 69.4,-57.6 67.3,-55.5 C65.3,-53.4 52.8,-57.6 46.5,-59.6 C40.3,-61.7 35.4,-66.2 29.9,-68 C24.3,-69.7 17.7,-66.2 13.2,-70 C8.7,-73.9 0.7,-86.9 2.8,-90.9Z" fill="#b4b4b4" stroke="#111" stroke-width="1.69" stroke-linejoin="round" />
<path d="M67.3,-55.5 C68.4,-58.2 76,-50.6 79.8,-47.1 C83.6,-43.7 88.2,-40.9 90.2,-34.7 C92.3,-28.4 94.1,-14.2 92.3,-9.7 C90.6,-5.2 83,-4.1 79.8,-7.6 C76.7,-11.1 75.7,-22.5 73.6,-30.5 C71.5,-38.5 66.3,-52.7 67.3,-55.5Z" fill="#d8d8d8" stroke="#111" stroke-width="1.69" stroke-linejoin="round" />
<path d="M-22.2,86.1 C-22.9,88.2 -13.5,97.5 -7.6,100.6 C-1.7,103.8 7,105.5 13.2,104.8 C19.5,104.1 24.3,98.9 29.9,96.5 C35.4,94.1 42.4,93.4 46.5,90.2 C50.7,87.1 56.2,79.5 54.9,77.8 C53.5,76 44.4,78.1 38.2,79.8 C32,81.6 24.3,86.8 17.4,88.2 C10.4,89.5 3.2,88.5 -3.4,88.2 C-10,87.8 -21.5,84 -22.2,86.1Z" fill="#e2e2e2" stroke="#222" stroke-width="1.56" stroke-linejoin="round" />
<path d="M-47.1,-105.4 C-42.6,-107.1 -29.5,-108 -22.2,-107.1 C-14.9,-106.2 -5.2,-102.6 -3.4,-100.2 C-1.7,-97.9 -6.9,-93.8 -11.8,-92.9 C-16.6,-92.1 -26.3,-94.3 -32.6,-95 C-38.8,-95.7 -46.8,-95.4 -49.2,-97.1 C-51.7,-98.8 -51.7,-103.8 -47.1,-105.4Z" fill="#cdcdcd" stroke="#222" stroke-width="1.43" stroke-linejoin="round" />
<path d="M25.7,-3.4 C27.1,-4.8 37.9,0 42.4,4.9 C46.9,9.8 51.7,18.8 52.8,25.7 C53.8,32.7 50.3,45.8 48.6,46.5 C46.9,47.2 44.8,35.4 42.4,29.9 C39.9,24.3 36.8,18.8 34,13.2 C31.3,7.7 24.3,-2 25.7,-3.4Z" fill="#d6d6d6" stroke="#222" stroke-width="1.3" stroke-linejoin="round" />
<ellipse cx="-45" cy="-41" rx="50" ry="41" transform="rotate(-30 -45 -41)" fill="#d6d6d6" stroke="#0a0a0a" stroke-width="2.34" />
<path d="M-14.8,-46.2L2.9,-49.3M-15.2,-42.4L2.6,-43.2M-16.1,-38.5L1.3,-37M-17.7,-34.7L-1,-30.9M-19.9,-30.9L-4.1,-25M-22.6,-27.4L-8.1,-19.4M-25.8,-24L-12.8,-14.2M-29.4,-21.1L-18.2,-9.6M-33.3,-18.5L-24.2,-5.7M-37.5,-16.3L-30.5,-2.5M-41.8,-14.7L-37.2,-0M-46.3,-13.5L-44,1.6M-50.7,-12.9L-50.8,2.4M-55,-12.8L-57.5,2.2M-59.2,-13.3L-64,1.2M-63.1,-14.3L-70,-0.6M-66.6,-15.9L-75.6,-3.3M-69.7,-17.9L-80.5,-6.8M-72.4,-20.4L-84.7,-11M-74.5,-23.3L-88.1,-15.7M-76,-26.6L-90.7,-21M-76.9,-30.1L-92.3,-26.7" fill="none" stroke="#161616" stroke-width="1.56" stroke-linecap="round"/>
<path d="M-93.5,-47.8 C-89.8,-52.6 -79.1,-69.1 -71.4,-76.6 C-63.7,-84.1 -56.2,-89.4 -47.4,-92.9 C-38.6,-96.4 -26.5,-97.2 -18.5,-97.7 C-10.5,-98.2 -2.5,-96.1 0.7,-95.8" fill="none" stroke="#161616" stroke-width="1.69" stroke-linecap="round" />
<path d="M-87.7,-42 C-85.8,-45.2 -80.5,-55.9 -76.2,-61.2 C-71.9,-66.5 -68.2,-69.5 -61.8,-73.7 C-55.4,-77.9 -46.6,-84.6 -37.8,-86.2 C-29,-87.8 -15,-84.9 -8.9,-83.3 C-2.9,-81.7 -2.5,-77.7 -1.3,-76.6" fill="none" stroke="#161616" stroke-width="2.08" stroke-linecap="round" />
<path d="M-81,-52.6 C-78.3,-54.6 -70.9,-61.2 -64.7,-65 C-58.4,-68.9 -51.2,-74.2 -43.5,-75.6 C-35.8,-77.1 -22.7,-74 -18.5,-73.7" fill="none" stroke="#161616" stroke-width="1.3" stroke-linecap="round" />
<ellipse cx="-46" cy="-40" rx="33" ry="25" transform="rotate(-30 -46 -40)" fill="#999" stroke="#0a0a0a" stroke-width="2.86" />
<ellipse cx="-47" cy="-39" rx="26" ry="18.5" transform="rotate(-32 -47 -39)" fill="#b0b0b0" stroke="#111" stroke-width="1.95" />
<path d="M-47.4,-74.7 C-43.2,-76.1 -24.3,-74.5 -18.5,-73.7 C-12.8,-72.9 -12.8,-71.9 -12.8,-69.9 C-12.8,-67.8 -15.3,-63.3 -18.5,-61.2 C-21.7,-59.1 -27.8,-56.7 -32,-57.4 C-36.2,-58 -41,-62.2 -43.5,-65 C-46.1,-67.9 -51.5,-73.2 -47.4,-74.7Z" fill="#bdbdbd" stroke="#161616" stroke-width="1.3" stroke-linejoin="round" />
<path d="M-55,-51.6 C-53.1,-53.8 -49.6,-54.5 -47.4,-53.5 C-45.1,-52.6 -42.6,-49.2 -41.6,-45.8 C-40.6,-42.5 -40.6,-36.5 -41.6,-33.3 C-42.6,-30.1 -45.1,-27.1 -47.4,-26.6 C-49.6,-26.1 -53.1,-28.2 -55,-30.5 C-57,-32.7 -58.9,-36.5 -58.9,-40.1 C-58.9,-43.6 -57,-49.4 -55,-51.6Z" fill="#1a1a1a" stroke="none" stroke-width="0.0" stroke-linejoin="round" />
<path d="M-41.6,-43.9 C-39.7,-46.6 -31.2,-48.1 -28.2,-47.8 C-25.1,-47.4 -22.7,-44.4 -23.3,-42 C-24,-39.6 -29.3,-35.1 -32,-33.3 C-34.7,-31.6 -38.1,-29.7 -39.7,-31.4 C-41.3,-33.2 -43.5,-41.2 -41.6,-43.9Z" fill="#444" stroke="none" stroke-width="0.0" stroke-linejoin="round" />
<path d="M-35.1,-41.6L-25.3,-43.4M-35,-40.9L-25,-40.5M-35.1,-40.1L-25.6,-37.7M-35.5,-39.4L-27,-35.1M-36,-38.8L-29.2,-32.9M-36.6,-38.3L-32,-31.2" fill="none" stroke="#ddd" stroke-width="0.91" stroke-linecap="round"/>
<path d="M-39.7,-57.4 C-38.4,-58 -35.2,-57.4 -33.9,-56.4 C-32.6,-55.4 -31.7,-53.7 -32,-51.6 C-32.3,-49.5 -34.7,-44.6 -35.8,-43.9 C-37,-43.3 -37.8,-46.3 -38.7,-47.8 C-39.7,-49.2 -41.4,-51 -41.6,-52.6 C-41.8,-54.2 -41,-56.7 -39.7,-57.4Z" fill="#f2f2f2" stroke="none" stroke-width="0.0" stroke-linejoin="round" />
<path d="M65.3,-57.6 C64.6,-53.4 62.7,-41.6 61.1,-32.6 C59.5,-23.6 57.5,-13.1 55.9,-3.4 C54.3,6.3 53.3,14.6 51.7,25.7 C50.2,36.8 47.4,56.9 46.5,63.2 L63.2,67.3 L72.5,42.4 L77.8,17.4 L80.9,-11.8 L83,-36.7Z" fill="#d4d4d4" stroke="#0a0a0a" stroke-width="1.8"/>
<path d="M64.8,-54.9L82.8,-34.3M63.9,-49.7L82.4,-29.5M63.1,-44.4L81.9,-24.6M62.2,-39.1L81.5,-19.8M61.3,-33.9L81.1,-15M60.3,-28L80.7,-9.9M59.2,-21.8L80.1,-4.2M58.1,-15.7L79.5,1.4M57,-9.6L78.9,7.1M55.9,-3.4L78.3,12.7M55,2.7L77.6,18.2M54.1,8.8L76.6,23.1M53.3,15L75.6,27.9M52.4,21.1L74.6,32.7M51.5,27.7L73.5,37.6M50.4,35.6L72.5,42.4M49.3,43.5L70.7,47.3M48.2,51.3L68.9,52.1M47.1,59.2L67.1,56.9" fill="none" stroke="#1a1a1a" stroke-width="1.3"/>
<path d="M83,-36.7 C82.6,-32.6 81.7,-20.8 80.9,-11.8 C80,-2.7 79.1,8.4 77.8,17.4 C76.4,26.4 75,34 72.5,42.4 C70.1,50.7 64.7,63.2 63.2,67.3" fill="none" stroke="#222" stroke-width="2.86" stroke-linecap="round" opacity="0.7"/>
<path d="M67.3,29.9 C70.8,25.4 78.1,22.9 79.8,25.7 C81.6,28.5 79.8,41 77.8,46.5 C75.7,52.1 70.5,58 67.3,59 C64.2,60.1 59,57.6 59,52.8 C59,47.9 63.9,34.4 67.3,29.9Z" fill="#555" stroke="none" stroke-width="0.0" stroke-linejoin="round" opacity="0.6"/>
<ellipse cx="26" cy="-28.5" rx="38" ry="42" transform="rotate(0 26 -28.5)" fill="#dedede" stroke="#050505" stroke-width="2.47" />
<path d="M56.1,-27.6L63.8,-24.7M55.9,-22.3L62.6,-17.3M55,-17.2L60.2,-10.3M53.5,-12.4L56.7,-3.8M51.3,-8.2L52.3,1.9M48.7,-4.6L46.9,6.6M45.6,-1.7L40.9,10.1M42.2,0.2L34.5,12.4M38.6,1.3L27.7,13.5M34.8,1.4L20.9,13.1M31,0.5L14.3,11.4M27.4,-1.3L8,8.5M24,-4L2.3,4.3M21,-7.5L-2.6,-0.9M18.4,-11.6L-6.6,-7M16.3,-16.3L-9.6,-13.7M14.9,-21.4L-11.4,-21M14.1,-26.7L-12,-28.5M13.9,-32L-11.4,-36M14.5,-37.3L-9.6,-43.3M15.7,-42.3L-6.6,-50M17.5,-46.8L-2.6,-56.1M19.9,-50.7L2.3,-61.3M22.8,-54L8,-65.5M26,-56.4L14.3,-68.4M29.6,-57.9L20.9,-70.1M33.3,-58.4L27.7,-70.5M37.1,-58L34.5,-69.4M40.8,-56.7L40.9,-67.1M44.3,-54.5L46.9,-63.6M47.6,-51.4L52.3,-58.9M50.4,-47.5L56.7,-53.2M52.7,-43.1L60.2,-46.7M54.5,-38.2L62.6,-39.7M55.6,-33L63.8,-32.3" fill="none" stroke="#1a1a1a" stroke-width="1.3" stroke-linecap="round"/>
<ellipse cx="35" cy="-28.5" rx="23.5" ry="32.5" transform="rotate(-5 35 -28.5)" fill="#999" stroke="#0a0a0a" stroke-width="2.34" />
<ellipse cx="35" cy="-28.5" rx="21" ry="30" transform="rotate(-5 35 -28.5)" fill="#8e8e8e" stroke="#0a0a0a" stroke-width="1.95" />
<path d="M21,-42 C21,-45 24.5,-48.7 27,-50 C29.5,-51.3 33.3,-51.2 36,-50 C38.7,-48.8 42.3,-45.7 43,-43 C43.7,-40.3 42.7,-35.8 40,-34 C37.3,-32.2 30.2,-30.7 27,-32 C23.8,-33.3 21,-39 21,-42Z" fill="#202020" stroke="none" stroke-width="0.0" stroke-linejoin="round" />
<path d="M22,-14 C22.8,-16.8 27,-21.3 30,-22 C33,-22.7 38.3,-20.3 40,-18 C41.7,-15.7 41.2,-10.7 40,-8 C38.8,-5.3 35.5,-2.5 33,-2 C30.5,-1.5 26.8,-3 25,-5 C23.2,-7 21.2,-11.2 22,-14Z" fill="#262626" stroke="none" stroke-width="0.0" stroke-linejoin="round" />
<path d="M20,-34 C21.3,-33.3 24.7,-30.5 28,-30 C31.3,-29.5 36.3,-30 40,-31 C43.7,-32 48.3,-35.2 50,-36" fill="none" stroke="#e6e6e6" stroke-width="2.6" stroke-linecap="round" />
<path d="M24,-22 C25.7,-22.8 30.7,-26.3 34,-27 C37.3,-27.7 41,-26.8 44,-26 C47,-25.2 50.7,-22.7 52,-22" fill="none" stroke="#d6d6d6" stroke-width="2.08" stroke-linecap="round" />
<path d="M44,-44 C45,-42.3 49,-38 50,-34 C51,-30 51,-24.3 50,-20 C49,-15.7 45,-10 44,-8" fill="none" stroke="#cfcfcf" stroke-width="3.25" stroke-linecap="round" />
<ellipse cx="-19" cy="36" rx="65" ry="51" transform="rotate(12 -19 36)" fill="#e0e0e0" stroke="#050505" stroke-width="2.6" />
<path d="M24.7,51.3L43.9,52.2M23.4,55L42,57.4M21.6,58.6L39.4,62.4M19.4,61.9L36.1,67M16.6,65L32.2,71.3M13.3,67.9L27.7,75.2M9.7,70.4L22.6,78.6M5.6,72.5L17,81.5M1.2,74.3L11,83.9M-3.4,75.7L4.7,85.7M-8.3,76.7L-1.9,86.9M-13.4,77.3L-8.7,87.6M-18.5,77.4L-15.7,87.6M-23.8,77.2L-22.7,87.1M-29,76.5L-29.6,85.9M-34.1,75.3L-36.4,84.1M-39.1,73.8L-43,81.8M-43.9,71.9L-49.3,79M-48.4,69.6L-55.3,75.6M-52.7,67L-60.9,71.8M-56.6,64.1L-65.9,67.5M-60.1,60.9L-70.4,62.9M-63.2,57.5L-74.3,58M-65.7,53.9L-77.6,52.8M-67.8,50.2L-80.1,47.4M-69.4,46.3L-82,41.9M-70.4,42.4L-83.1,36.3M-70.8,38.4L-83.5,30.7M-70.7,34.5L-83.1,25.2M-70.1,30.7L-81.9,19.8M-68.8,27L-80,14.6M-67,23.4L-77.4,9.6M-64.8,20.1L-74.1,5M-62,17L-70.2,0.7M-58.7,14.1L-65.7,-3.2M-55.1,11.6L-60.6,-6.6M-51,9.5L-55,-9.5M-46.6,7.7L-49,-11.9M-42,6.3L-42.7,-13.7M-37.1,5.3L-36.1,-14.9M-32,4.7L-29.3,-15.6M-26.9,4.6L-22.3,-15.6M-21.6,4.8L-15.3,-15.1M-16.4,5.5L-8.4,-13.9M-11.3,6.7L-1.6,-12.1M-6.3,8.2L5,-9.8M-1.5,10.1L11.3,-7M3,12.4L17.3,-3.6M7.3,15L22.9,0.2M11.2,17.9L27.9,4.5M14.7,21.1L32.4,9.1M17.8,24.5L36.3,14M20.3,28.1L39.6,19.2M22.4,31.8L42.1,24.6M24,35.7L44,30.1M25,39.6L45.1,35.7M25.4,43.6L45.5,41.3M25.3,47.5L45.1,46.8" fill="none" stroke="#1a1a1a" stroke-width="1.37" stroke-linecap="round"/>
<ellipse cx="-22.7" cy="41" rx="48.5" ry="36" transform="rotate(10 -22.7 41)" fill="#a8a8a8" stroke="#0a0a0a" stroke-width="2.86" />
<ellipse cx="-24" cy="41" rx="42" ry="30.5" transform="rotate(10 -24 41)" fill="#8a8a8a" stroke="#0a0a0a" stroke-width="2.34" />
<ellipse cx="-24" cy="42" rx="35" ry="24.5" transform="rotate(10 -24 42)" fill="#a9a9a9" stroke="#1a1a1a" stroke-width="1.56" />
<path d="M-51.2,17.1 C-49.9,15 -45.1,16 -43.5,19 C-41.9,22.1 -42.2,30.4 -41.6,35.3 C-41,40.3 -39,47.2 -39.7,48.8 C-40.3,50.4 -43.5,47.8 -45.4,45 C-47.4,42.1 -50.2,36.1 -51.2,31.5 C-52.2,26.9 -52.5,19.2 -51.2,17.1Z" fill="#2a2a2a" stroke="none" stroke-width="0.0" stroke-linejoin="round" />
<path d="M-28.2,23.8 C-26.1,20.5 -18.5,20.5 -13.7,20.9 C-8.9,21.4 -3.3,23.8 0.7,26.7 C4.7,29.6 9,34.5 10.3,38.2 C11.6,41.9 10.8,46.1 8.4,48.8 C6,51.5 0.3,53.6 -4.1,54.6 C-8.6,55.5 -14.9,56.8 -18.5,54.6 C-22.2,52.3 -24.6,46.2 -26.2,41.1 C-27.8,36 -30.2,27.2 -28.2,23.8Z" fill="#2a2a2a" stroke="none" stroke-width="0.0" stroke-linejoin="round" />
<path d="M-66.6,23.8 C-65.3,19.7 -57.6,16.8 -55,18.1 C-52.5,19.3 -53.1,26.4 -51.2,31.5 C-49.3,36.6 -45.8,43.7 -43.5,48.8 C-41.3,53.9 -36.5,61 -37.8,62.2 C-39,63.5 -47,59.7 -51.2,56.5 C-55.4,53.3 -60.2,48.5 -62.7,43 C-65.3,37.6 -67.9,28 -66.6,23.8Z" fill="#bdbdbd" stroke="#333" stroke-width="1.04" stroke-linejoin="round" />
<path d="M-18.5,56.5 C-16.6,54.2 -8.6,57.4 -4.1,56.5 C0.3,55.5 6.8,49.8 8.4,50.7 C10,51.7 8.4,59 5.5,62.2 C2.6,65.4 -5.4,68.6 -8.9,69.9 C-12.5,71.2 -14.1,72.2 -15.7,69.9 C-17.3,67.7 -20.5,58.7 -18.5,56.5Z" fill="#c2c2c2" stroke="#333" stroke-width="1.04" stroke-linejoin="round" />
<path d="M-37.8,18.1 C-36.5,15.5 -31.7,17.1 -30.1,20 C-28.5,22.9 -29,30.5 -28.2,35.3 C-27.4,40.1 -24.6,46.2 -25.3,48.8 C-25.9,51.4 -29.9,53 -32,50.7 C-34.1,48.5 -36.8,40.8 -37.8,35.3 C-38.7,29.9 -39,20.6 -37.8,18.1Z" fill="#8a8a8a" stroke="#333" stroke-width="0.78" stroke-linejoin="round" />
<path d="M-24.3,31.5 C-23.8,29.7 -22.2,27.3 -20.5,26.7 C-18.7,26.1 -15.5,27.2 -13.7,27.7 C-12,28.1 -11.2,28.6 -9.9,29.6 C-8.6,30.5 -6.4,31.7 -6.1,33.4 C-5.7,35.2 -7.5,37.9 -8,40.1 C-8.5,42.4 -8.1,45 -8.9,46.9 C-9.7,48.8 -11.2,51 -12.8,51.7 C-14.4,52.3 -17.3,52.2 -18.5,50.7 C-19.8,49.3 -19.7,45.3 -20.5,43 C-21.3,40.8 -22.7,39.2 -23.3,37.3 C-24,35.3 -24.8,33.3 -24.3,31.5Z" fill="#000" stroke="none" stroke-width="0.0" stroke-linejoin="round" />
<path d="M-26.7,33.4 C-26.5,32.5 -25.3,31 -24.8,31.5 C-24.2,32 -23.9,34.9 -23.3,36.3 C-22.8,37.7 -21.4,39.3 -21.4,40.1 C-21.4,40.9 -22.6,41.6 -23.3,41.1 C-24.1,40.6 -25.2,38.5 -25.7,37.3 C-26.3,36 -26.9,34.4 -26.7,33.4Z" fill="#fff" stroke="none" stroke-width="0.0" stroke-linejoin="round" />
<path d="M-15.7,24.8 C-15,24.3 -12.6,24.6 -12.3,25.3 C-12,25.9 -13.1,28.1 -13.7,28.6 C-14.4,29.1 -15.8,28.8 -16.1,28.1 C-16.5,27.5 -16.3,25.3 -15.7,24.8Z" fill="#f0f0f0" stroke="none" stroke-width="0.0" stroke-linejoin="round" />
<path d="M-51.2,19 C-49.9,21.7 -46.1,29.9 -43.5,35.3 C-41,40.8 -38.4,46.2 -35.8,51.7 C-33.3,57.1 -29.4,65.3 -28.2,68" fill="none" stroke="#161616" stroke-width="1.3" stroke-linecap="round" />
<path d="M-38.7,50.7 C-37.6,50.9 -34.2,51.8 -32,51.7 C-29.8,51.5 -26.4,50.1 -25.3,49.8" fill="none" stroke="#161616" stroke-width="1.17" stroke-linecap="round" />
<path d="M-25.3,49.8 C-24.5,51.5 -22.1,56.6 -20.5,60.3 C-18.9,64 -16.5,69.9 -15.7,71.8" fill="none" stroke="#161616" stroke-width="1.43" stroke-linecap="round" />
<path d="M-35.8,52.6 C-34.9,54.1 -31.8,58.1 -30.1,61.3 C-28.3,64.5 -26.1,70.1 -25.3,71.8" fill="none" stroke="#161616" stroke-width="1.17" stroke-linecap="round" />
<path d="M-57.7,29.7L-47.2,19.7M-57.1,30.2L-44.1,22.2M-56.6,30.8L-41.5,25.2M-56.3,31.5L-39.6,28.6M-56.1,32.2L-38.4,32.2M-56,33L-38,36M-56.1,33.8L-38.4,39.8M-56.3,34.5L-39.6,43.4M-56.6,35.2L-41.5,46.8M-57.1,35.8L-44.1,49.8M-57.7,36.3L-47.2,52.3" fill="none" stroke="#555" stroke-width="0.78" stroke-linecap="round"/>
</g>
<path d="M79.8,-0.3 C81.6,-4 86.1,-3.3 90.2,-3.4 C94.4,-3.6 101.3,-2.4 104.8,-1.3 C108.4,-0.3 110.3,1.1 111.5,2.8 C112.7,4.5 112.5,7 112.1,9.1 C111.7,11.1 111.9,13.6 109,15.3 C106,17 99.3,18.9 94.4,19.5 C89.5,20 82.3,21.7 79.8,18.4 C77.4,15.1 78.1,3.3 79.8,-0.3Z" fill="#c6c6c6" stroke="#1e1e1e" stroke-width="1.43" stroke-linejoin="round" />
<ellipse cx="105.9" cy="7.4" rx="3.2" ry="7.5" transform="rotate(10 105.9 7.4)" fill="#aaa" stroke="#222" stroke-width="1.17" />
<path d="M80.9,1.8 C81.3,3 83.5,6.4 83.6,9.1 C83.7,11.7 81.8,16.3 81.5,17.8" fill="none" stroke="#1a1a1a" stroke-width="2.08" stroke-linecap="round" />
<path d="M88.2,-0.3 C89.5,-0.1 94.4,-0.1 96.5,0.7 C98.6,1.6 100,4.2 100.6,4.9" fill="none" stroke="#444" stroke-width="1.04" stroke-linecap="round" />
</g><clipPath id="csphS"><path d="M-45.1,-106.5 C-41.5,-107.8 -25.3,-108.3 -20.1,-107.5 C-14.9,-106.7 -9.1,-101.9 -3.4,-100.2 C2.3,-98.5 19.2,-95.3 25.7,-94 C32.2,-92.7 44.4,-92.5 48.6,-89.8 C52.8,-87.1 56.1,-76.4 59,-72.1 C61.9,-67.8 67.6,-60.2 71.5,-55.5 C75.4,-50.8 87.6,-40.4 90.2,-34.7 C92.8,-29 89.9,-13.9 92.3,-9.7 C94.6,-5.5 106.5,-3.1 109,-1.3 C111.5,0.5 112.1,2.9 112.1,4.9 C112.1,6.8 111.5,12.5 109,14.3 C106.5,16.1 94.9,17.5 92.3,19.5 C89.7,21.5 89.8,26.5 88.2,29.9 C86.6,33.3 82.4,42.3 79.8,46.5 C77.2,50.7 70.4,59.3 67.3,63.2 C64.2,67.1 57.5,74.3 54.9,77.7 C52.3,81.1 49.6,87.9 46.5,90.2 C43.4,92.6 34.1,94.7 29.9,96.5 C25.7,98.3 17.9,104.3 13.2,104.8 C8.5,105.3 -3.2,102.7 -7.6,100.6 C-12,98.5 -18.6,90.4 -22.2,88.2 C-25.8,86 -32.3,85.1 -36.7,83 C-41.1,80.9 -52.4,74.8 -57.6,71.5 C-62.8,68.2 -74.8,61.1 -78.4,56.9 C-82,52.7 -84.4,43.4 -86.7,38.2 C-89,33 -95.7,21 -97.1,15.3 C-98.5,9.6 -98.9,-2.1 -98.1,-7.6 C-97.3,-13.1 -91.5,-23.5 -90.9,-28.4 C-90.2,-33.3 -94.2,-42.4 -92.9,-47.1 C-91.6,-51.8 -83.5,-61.2 -80.4,-65.9 C-77.3,-70.6 -71.9,-80.7 -68,-84.6 C-64.1,-88.5 -52.1,-94.4 -49.2,-97.1 C-46.3,-99.8 -48.7,-105.2 -45.1,-106.5Z"/></clipPath>
<g id="sphS">
<path d="M-45.1,-106.5 C-41.5,-107.8 -25.3,-108.3 -20.1,-107.5 C-14.9,-106.7 -9.1,-101.9 -3.4,-100.2 C2.3,-98.5 19.2,-95.3 25.7,-94 C32.2,-92.7 44.4,-92.5 48.6,-89.8 C52.8,-87.1 56.1,-76.4 59,-72.1 C61.9,-67.8 67.6,-60.2 71.5,-55.5 C75.4,-50.8 87.6,-40.4 90.2,-34.7 C92.8,-29 89.9,-13.9 92.3,-9.7 C94.6,-5.5 106.5,-3.1 109,-1.3 C111.5,0.5 112.1,2.9 112.1,4.9 C112.1,6.8 111.5,12.5 109,14.3 C106.5,16.1 94.9,17.5 92.3,19.5 C89.7,21.5 89.8,26.5 88.2,29.9 C86.6,33.3 82.4,42.3 79.8,46.5 C77.2,50.7 70.4,59.3 67.3,63.2 C64.2,67.1 57.5,74.3 54.9,77.7 C52.3,81.1 49.6,87.9 46.5,90.2 C43.4,92.6 34.1,94.7 29.9,96.5 C25.7,98.3 17.9,104.3 13.2,104.8 C8.5,105.3 -3.2,102.7 -7.6,100.6 C-12,98.5 -18.6,90.4 -22.2,88.2 C-25.8,86 -32.3,85.1 -36.7,83 C-41.1,80.9 -52.4,74.8 -57.6,71.5 C-62.8,68.2 -74.8,61.1 -78.4,56.9 C-82,52.7 -84.4,43.4 -86.7,38.2 C-89,33 -95.7,21 -97.1,15.3 C-98.5,9.6 -98.9,-2.1 -98.1,-7.6 C-97.3,-13.1 -91.5,-23.5 -90.9,-28.4 C-90.2,-33.3 -94.2,-42.4 -92.9,-47.1 C-91.6,-51.8 -83.5,-61.2 -80.4,-65.9 C-77.3,-70.6 -71.9,-80.7 -68,-84.6 C-64.1,-88.5 -52.1,-94.4 -49.2,-97.1 C-46.3,-99.8 -48.7,-105.2 -45.1,-106.5Z" fill="url(#sg)" stroke="#1a1a1a" stroke-width="1.6" stroke-linejoin="round"/>
<g clip-path="url(#csphS)">
<path d="M-61.7,65.5L-67.5,78.9M-66.5,61.2L-74,74.3M-70.7,56.5L-80,69M-74.3,51.5L-85.3,63.2M-77.2,46.2L-89.9,56.8M-79.4,40.7L-93.6,49.9M-80.9,35.1L-96.6,42.7M-81.6,29.4L-98.6,35.3M-81.6,23.7L-99.8,27.6M-80.8,18.1L-100,19.9M-79.2,12.6L-99.3,12.2M-76.9,7.4L-97.6,4.7M-73.9,2.4L-95.1,-2.6M-70.2,-2.1L-91.7,-9.7M-66,-6.3L-87.5,-16.3M-61.1,-10L-82.5,-22.4M-55.7,-13.2L-76.9,-27.9M-49.9,-15.9L-70.6,-32.8M-43.8,-17.9L-63.7,-37M-37.3,-19.4L-56.4,-40.5" fill="none" stroke="#161616" stroke-width="2.04" stroke-linecap="round"/>
<path d="M-47.4,-94.8 C-45.8,-96.3 -42.6,-101.6 -37.8,-103.5 C-33,-105.4 -24.1,-106.5 -18.5,-106.4 C-12.9,-106.2 -6.5,-103.2 -4.1,-102.5" fill="none" stroke="#161616" stroke-width="1.7" stroke-linecap="round" />
<path d="M0.7,-91.9 C1.9,-90.5 6,-85.5 8.4,-83.3 C10.7,-81.1 13.9,-79.3 15,-78.5" fill="none" stroke="#161616" stroke-width="1.7" stroke-linecap="round" />
<path d="M26.7,-91 C29.7,-90 40,-87 45,-85.2 C49.9,-83.5 55.8,-79.6 56.5,-80.4 C57.1,-81.2 50.1,-88.4 48.8,-90" fill="none" stroke="#161616" stroke-width="1.53" stroke-linecap="round" />
<path d="M0.8,-91 C3,-88.6 9.9,-79.3 14.2,-76.6 C18.5,-73.9 24.6,-75 26.7,-74.7" fill="none" stroke="#161616" stroke-width="1.53" stroke-linecap="round" />
<path d="M2.8,-90.9 C4.9,-94.8 18.1,-94.2 25.7,-94 C33.3,-93.8 43.1,-93.5 48.6,-89.8 C54.2,-86.2 55.9,-77.8 59,-72.1 C62.1,-66.4 69.4,-57.6 67.3,-55.5 C65.3,-53.4 52.8,-57.6 46.5,-59.6 C40.3,-61.7 35.4,-66.2 29.9,-68 C24.3,-69.7 17.7,-66.2 13.2,-70 C8.7,-73.9 0.7,-86.9 2.8,-90.9Z" fill="#b4b4b4" stroke="#111" stroke-width="2.21" stroke-linejoin="round" />
<path d="M67.3,-55.5 C68.4,-58.2 76,-50.6 79.8,-47.1 C83.6,-43.7 88.2,-40.9 90.2,-34.7 C92.3,-28.4 94.1,-14.2 92.3,-9.7 C90.6,-5.2 83,-4.1 79.8,-7.6 C76.7,-11.1 75.7,-22.5 73.6,-30.5 C71.5,-38.5 66.3,-52.7 67.3,-55.5Z" fill="#d8d8d8" stroke="#111" stroke-width="2.21" stroke-linejoin="round" />
<path d="M-22.2,86.1 C-22.9,88.2 -13.5,97.5 -7.6,100.6 C-1.7,103.8 7,105.5 13.2,104.8 C19.5,104.1 24.3,98.9 29.9,96.5 C35.4,94.1 42.4,93.4 46.5,90.2 C50.7,87.1 56.2,79.5 54.9,77.8 C53.5,76 44.4,78.1 38.2,79.8 C32,81.6 24.3,86.8 17.4,88.2 C10.4,89.5 3.2,88.5 -3.4,88.2 C-10,87.8 -21.5,84 -22.2,86.1Z" fill="#e2e2e2" stroke="#222" stroke-width="2.04" stroke-linejoin="round" />
<path d="M-47.1,-105.4 C-42.6,-107.1 -29.5,-108 -22.2,-107.1 C-14.9,-106.2 -5.2,-102.6 -3.4,-100.2 C-1.7,-97.9 -6.9,-93.8 -11.8,-92.9 C-16.6,-92.1 -26.3,-94.3 -32.6,-95 C-38.8,-95.7 -46.8,-95.4 -49.2,-97.1 C-51.7,-98.8 -51.7,-103.8 -47.1,-105.4Z" fill="#cdcdcd" stroke="#222" stroke-width="1.87" stroke-linejoin="round" />
<path d="M25.7,-3.4 C27.1,-4.8 37.9,0 42.4,4.9 C46.9,9.8 51.7,18.8 52.8,25.7 C53.8,32.7 50.3,45.8 48.6,46.5 C46.9,47.2 44.8,35.4 42.4,29.9 C39.9,24.3 36.8,18.8 34,13.2 C31.3,7.7 24.3,-2 25.7,-3.4Z" fill="#d6d6d6" stroke="#222" stroke-width="1.7" stroke-linejoin="round" />
<ellipse cx="-45" cy="-41" rx="50" ry="41" transform="rotate(-30 -45 -41)" fill="#d6d6d6" stroke="#0a0a0a" stroke-width="3.06" />
<path d="M-14.8,-45.7L2.9,-48.4M-15.5,-40.7L2.1,-40.4M-17.3,-35.7L-0.3,-32.5M-20,-30.8L-4.2,-24.8M-23.6,-26.3L-9.6,-17.7M-27.9,-22.2L-16.1,-11.3M-32.9,-18.7L-23.6,-6M-38.3,-15.9L-31.9,-1.9M-44,-14L-40.5,0.9M-49.8,-13L-49.4,2.3M-55.4,-12.8L-58.1,2.2M-60.7,-13.6L-66.3,0.6M-65.5,-15.3L-73.8,-2.4M-69.7,-17.9L-80.4,-6.7M-73,-21.2L-85.7,-12.2M-75.4,-25.1L-89.7,-18.6M-76.8,-29.5L-92.1,-25.8" fill="none" stroke="#161616" stroke-width="2.04" stroke-linecap="round"/>
<path d="M-93.5,-47.8 C-89.8,-52.6 -79.1,-69.1 -71.4,-76.6 C-63.7,-84.1 -56.2,-89.4 -47.4,-92.9 C-38.6,-96.4 -26.5,-97.2 -18.5,-97.7 C-10.5,-98.2 -2.5,-96.1 0.7,-95.8" fill="none" stroke="#161616" stroke-width="2.21" stroke-linecap="round" />
<path d="M-87.7,-42 C-85.8,-45.2 -80.5,-55.9 -76.2,-61.2 C-71.9,-66.5 -68.2,-69.5 -61.8,-73.7 C-55.4,-77.9 -46.6,-84.6 -37.8,-86.2 C-29,-87.8 -15,-84.9 -8.9,-83.3 C-2.9,-81.7 -2.5,-77.7 -1.3,-76.6" fill="none" stroke="#161616" stroke-width="2.72" stroke-linecap="round" />
<path d="M-81,-52.6 C-78.3,-54.6 -70.9,-61.2 -64.7,-65 C-58.4,-68.9 -51.2,-74.2 -43.5,-75.6 C-35.8,-77.1 -22.7,-74 -18.5,-73.7" fill="none" stroke="#161616" stroke-width="1.7" stroke-linecap="round" />
<ellipse cx="-46" cy="-40" rx="33" ry="25" transform="rotate(-30 -46 -40)" fill="#999" stroke="#0a0a0a" stroke-width="3.74" />
<ellipse cx="-47" cy="-39" rx="26" ry="18.5" transform="rotate(-32 -47 -39)" fill="#b0b0b0" stroke="#111" stroke-width="2.55" />
<path d="M-47.4,-74.7 C-43.2,-76.1 -24.3,-74.5 -18.5,-73.7 C-12.8,-72.9 -12.8,-71.9 -12.8,-69.9 C-12.8,-67.8 -15.3,-63.3 -18.5,-61.2 C-21.7,-59.1 -27.8,-56.7 -32,-57.4 C-36.2,-58 -41,-62.2 -43.5,-65 C-46.1,-67.9 -51.5,-73.2 -47.4,-74.7Z" fill="#bdbdbd" stroke="#161616" stroke-width="1.7" stroke-linejoin="round" />
<path d="M-55,-51.6 C-53.1,-53.8 -49.6,-54.5 -47.4,-53.5 C-45.1,-52.6 -42.6,-49.2 -41.6,-45.8 C-40.6,-42.5 -40.6,-36.5 -41.6,-33.3 C-42.6,-30.1 -45.1,-27.1 -47.4,-26.6 C-49.6,-26.1 -53.1,-28.2 -55,-30.5 C-57,-32.7 -58.9,-36.5 -58.9,-40.1 C-58.9,-43.6 -57,-49.4 -55,-51.6Z" fill="#1a1a1a" stroke="none" stroke-width="0.0" stroke-linejoin="round" />
<path d="M-41.6,-43.9 C-39.7,-46.6 -31.2,-48.1 -28.2,-47.8 C-25.1,-47.4 -22.7,-44.4 -23.3,-42 C-24,-39.6 -29.3,-35.1 -32,-33.3 C-34.7,-31.6 -38.1,-29.7 -39.7,-31.4 C-41.3,-33.2 -43.5,-41.2 -41.6,-43.9Z" fill="#444" stroke="none" stroke-width="0.0" stroke-linejoin="round" />
<path d="M-35,-41.5L-25.2,-42.7M-35.1,-40.3L-25.4,-38.4M-35.6,-39.2L-27.5,-34.5M-36.4,-38.4L-31.3,-31.6" fill="none" stroke="#ddd" stroke-width="1.19" stroke-linecap="round"/>
<path d="M-39.7,-57.4 C-38.4,-58 -35.2,-57.4 -33.9,-56.4 C-32.6,-55.4 -31.7,-53.7 -32,-51.6 C-32.3,-49.5 -34.7,-44.6 -35.8,-43.9 C-37,-43.3 -37.8,-46.3 -38.7,-47.8 C-39.7,-49.2 -41.4,-51 -41.6,-52.6 C-41.8,-54.2 -41,-56.7 -39.7,-57.4Z" fill="#f2f2f2" stroke="none" stroke-width="0.0" stroke-linejoin="round" />
<path d="M65.3,-57.6 C64.6,-53.4 62.7,-41.6 61.1,-32.6 C59.5,-23.6 57.5,-13.1 55.9,-3.4 C54.3,6.3 53.3,14.6 51.7,25.7 C50.2,36.8 47.4,56.9 46.5,63.2 L63.2,67.3 L72.5,42.4 L77.8,17.4 L80.9,-11.8 L83,-36.7Z" fill="#d4d4d4" stroke="#0a0a0a" stroke-width="1.8"/>
<path d="M64.7,-54.2L82.7,-33.7M63.6,-47.6L82.2,-27.5M62.5,-40.9L81.7,-21.4M61.4,-34.2L81.2,-15.3M60.1,-26.7L80.5,-8.7M58.7,-19L79.8,-1.6M57.3,-11.2L79,5.6M55.9,-3.4L78.3,12.7M54.8,4.3L77.3,19.5M53.7,12.1L76,25.6M52.6,19.9L74.8,31.8M51.4,28.2L73.5,37.9M50,38.2L71.9,44M48.6,48.2L69.6,50.2M47.2,58.2L67.3,56.3" fill="none" stroke="#1a1a1a" stroke-width="1.7"/>
<path d="M83,-36.7 C82.6,-32.6 81.7,-20.8 80.9,-11.8 C80,-2.7 79.1,8.4 77.8,17.4 C76.4,26.4 75,34 72.5,42.4 C70.1,50.7 64.7,63.2 63.2,67.3" fill="none" stroke="#222" stroke-width="3.74" stroke-linecap="round" opacity="0.7"/>
<path d="M67.3,29.9 C70.8,25.4 78.1,22.9 79.8,25.7 C81.6,28.5 79.8,41 77.8,46.5 C75.7,52.1 70.5,58 67.3,59 C64.2,60.1 59,57.6 59,52.8 C59,47.9 63.9,34.4 67.3,29.9Z" fill="#555" stroke="none" stroke-width="0.0" stroke-linejoin="round" opacity="0.6"/>
<ellipse cx="26" cy="-28.5" rx="38" ry="42" transform="rotate(0 26 -28.5)" fill="#dedede" stroke="#050505" stroke-width="3.23" />
<path d="M56.1,-26.8L63.7,-23.6M55.6,-20L61.7,-14.1M53.9,-13.6L57.7,-5.4M51.3,-8L52.1,2M47.7,-3.5L45,7.9M43.5,-0.4L36.9,11.7M38.8,1.2L28.2,13.4M33.9,1.2L19.4,12.9M29.1,-0.3L10.9,10.1M24.6,-3.4L3.3,5.2M20.7,-7.9L-3.1,-1.5M17.5,-13.5L-8,-9.7M15.2,-19.8L-11,-18.8M14.1,-26.7L-12,-28.5M14,-33.6L-11,-38.2M15.1,-40.3L-8,-47.3M17.3,-46.3L-3.1,-55.5M20.4,-51.4L3.3,-62.2M24.3,-55.2L10.9,-67.1M28.8,-57.6L19.4,-69.9M33.6,-58.4L28.2,-70.4M38.5,-57.7L36.9,-68.7M43.2,-55.3L45,-64.9M47.5,-51.5L52.1,-59M51,-46.5L57.7,-51.6M53.8,-40.4L61.7,-42.9M55.5,-33.8L63.7,-33.4" fill="none" stroke="#1a1a1a" stroke-width="1.7" stroke-linecap="round"/>
<ellipse cx="35" cy="-28.5" rx="23.5" ry="32.5" transform="rotate(-5 35 -28.5)" fill="#999" stroke="#0a0a0a" stroke-width="3.06" />
<ellipse cx="35" cy="-28.5" rx="21" ry="30" transform="rotate(-5 35 -28.5)" fill="#8e8e8e" stroke="#0a0a0a" stroke-width="2.55" />
<path d="M21,-42 C21,-45 24.5,-48.7 27,-50 C29.5,-51.3 33.3,-51.2 36,-50 C38.7,-48.8 42.3,-45.7 43,-43 C43.7,-40.3 42.7,-35.8 40,-34 C37.3,-32.2 30.2,-30.7 27,-32 C23.8,-33.3 21,-39 21,-42Z" fill="#202020" stroke="none" stroke-width="0.0" stroke-linejoin="round" />
<path d="M22,-14 C22.8,-16.8 27,-21.3 30,-22 C33,-22.7 38.3,-20.3 40,-18 C41.7,-15.7 41.2,-10.7 40,-8 C38.8,-5.3 35.5,-2.5 33,-2 C30.5,-1.5 26.8,-3 25,-5 C23.2,-7 21.2,-11.2 22,-14Z" fill="#262626" stroke="none" stroke-width="0.0" stroke-linejoin="round" />
<path d="M20,-34 C21.3,-33.3 24.7,-30.5 28,-30 C31.3,-29.5 36.3,-30 40,-31 C43.7,-32 48.3,-35.2 50,-36" fill="none" stroke="#e6e6e6" stroke-width="3.4" stroke-linecap="round" />
<path d="M24,-22 C25.7,-22.8 30.7,-26.3 34,-27 C37.3,-27.7 41,-26.8 44,-26 C47,-25.2 50.7,-22.7 52,-22" fill="none" stroke="#d6d6d6" stroke-width="2.72" stroke-linecap="round" />
<path d="M44,-44 C45,-42.3 49,-38 50,-34 C51,-30 51,-24.3 50,-20 C49,-15.7 45,-10 44,-8" fill="none" stroke="#cfcfcf" stroke-width="4.25" stroke-linecap="round" />
<ellipse cx="-19" cy="36" rx="65" ry="51" transform="rotate(12 -19 36)" fill="#e0e0e0" stroke="#050505" stroke-width="3.4" />
<path d="M24.5,51.9L43.7,53M22.7,56.6L41,59.6M20,61L37.1,65.8M16.5,65.1L32.2,71.4M12.3,68.7L26.2,76.3M7.3,71.7L19.4,80.4M1.8,74.1L11.8,83.6M-4.2,75.9L3.6,86M-10.6,77L-5,87.3M-17.2,77.4L-13.9,87.7M-23.9,77.1L-22.9,87M-30.6,76.1L-31.8,85.4M-37.2,74.5L-40.5,82.8M-43.4,72.1L-48.7,79.3M-49.3,69.2L-56.4,74.9M-54.6,65.7L-63.3,69.8M-59.3,61.7L-69.4,64M-63.3,57.3L-74.5,57.7M-66.5,52.6L-78.5,51M-68.9,47.7L-81.4,43.9M-70.3,42.7L-83,36.8M-70.9,37.6L-83.4,29.6M-70.5,32.6L-82.6,22.5M-69.1,27.7L-80.5,15.7M-66.9,23.1L-77.2,9.3M-63.8,18.9L-72.8,3.4M-59.9,15.1L-67.3,-1.9M-55.3,11.8L-60.9,-6.4M-50,9L-53.7,-10.1M-44.2,6.9L-45.8,-12.9M-38,5.4L-37.3,-14.8M-31.5,4.7L-28.6,-15.6M-24.8,4.6L-19.6,-15.5M-18.1,5.3L-10.6,-14.3M-11.5,6.6L-1.8,-12.2M-5.1,8.6L6.7,-9.1M1,11.3L14.6,-5.2M6.6,14.5L22,-0.4M11.6,18.2L28.5,5M16,22.4L34.1,11.1M19.6,27L38.7,17.6M22.4,31.8L42.1,24.5M24.3,36.8L44.4,31.6M25.3,41.9L45.4,38.8M25.4,46.9L45.2,46" fill="none" stroke="#1a1a1a" stroke-width="1.78" stroke-linecap="round"/>
<ellipse cx="-22.7" cy="41" rx="48.5" ry="36" transform="rotate(10 -22.7 41)" fill="#a8a8a8" stroke="#0a0a0a" stroke-width="3.74" />
<ellipse cx="-24" cy="41" rx="42" ry="30.5" transform="rotate(10 -24 41)" fill="#8a8a8a" stroke="#0a0a0a" stroke-width="3.06" />
<ellipse cx="-24" cy="42" rx="35" ry="24.5" transform="rotate(10 -24 42)" fill="#a9a9a9" stroke="#1a1a1a" stroke-width="2.04" />
<path d="M-51.2,17.1 C-49.9,15 -45.1,16 -43.5,19 C-41.9,22.1 -42.2,30.4 -41.6,35.3 C-41,40.3 -39,47.2 -39.7,48.8 C-40.3,50.4 -43.5,47.8 -45.4,45 C-47.4,42.1 -50.2,36.1 -51.2,31.5 C-52.2,26.9 -52.5,19.2 -51.2,17.1Z" fill="#2a2a2a" stroke="none" stroke-width="0.0" stroke-linejoin="round" />
<path d="M-28.2,23.8 C-26.1,20.5 -18.5,20.5 -13.7,20.9 C-8.9,21.4 -3.3,23.8 0.7,26.7 C4.7,29.6 9,34.5 10.3,38.2 C11.6,41.9 10.8,46.1 8.4,48.8 C6,51.5 0.3,53.6 -4.1,54.6 C-8.6,55.5 -14.9,56.8 -18.5,54.6 C-22.2,52.3 -24.6,46.2 -26.2,41.1 C-27.8,36 -30.2,27.2 -28.2,23.8Z" fill="#2a2a2a" stroke="none" stroke-width="0.0" stroke-linejoin="round" />
<path d="M-66.6,23.8 C-65.3,19.7 -57.6,16.8 -55,18.1 C-52.5,19.3 -53.1,26.4 -51.2,31.5 C-49.3,36.6 -45.8,43.7 -43.5,48.8 C-41.3,53.9 -36.5,61 -37.8,62.2 C-39,63.5 -47,59.7 -51.2,56.5 C-55.4,53.3 -60.2,48.5 -62.7,43 C-65.3,37.6 -67.9,28 -66.6,23.8Z" fill="#bdbdbd" stroke="#333" stroke-width="1.36" stroke-linejoin="round" />
<path d="M-18.5,56.5 C-16.6,54.2 -8.6,57.4 -4.1,56.5 C0.3,55.5 6.8,49.8 8.4,50.7 C10,51.7 8.4,59 5.5,62.2 C2.6,65.4 -5.4,68.6 -8.9,69.9 C-12.5,71.2 -14.1,72.2 -15.7,69.9 C-17.3,67.7 -20.5,58.7 -18.5,56.5Z" fill="#c2c2c2" stroke="#333" stroke-width="1.36" stroke-linejoin="round" />
<path d="M-37.8,18.1 C-36.5,15.5 -31.7,17.1 -30.1,20 C-28.5,22.9 -29,30.5 -28.2,35.3 C-27.4,40.1 -24.6,46.2 -25.3,48.8 C-25.9,51.4 -29.9,53 -32,50.7 C-34.1,48.5 -36.8,40.8 -37.8,35.3 C-38.7,29.9 -39,20.6 -37.8,18.1Z" fill="#8a8a8a" stroke="#333" stroke-width="1.02" stroke-linejoin="round" />
<path d="M-24.3,31.5 C-23.8,29.7 -22.2,27.3 -20.5,26.7 C-18.7,26.1 -15.5,27.2 -13.7,27.7 C-12,28.1 -11.2,28.6 -9.9,29.6 C-8.6,30.5 -6.4,31.7 -6.1,33.4 C-5.7,35.2 -7.5,37.9 -8,40.1 C-8.5,42.4 -8.1,45 -8.9,46.9 C-9.7,48.8 -11.2,51 -12.8,51.7 C-14.4,52.3 -17.3,52.2 -18.5,50.7 C-19.8,49.3 -19.7,45.3 -20.5,43 C-21.3,40.8 -22.7,39.2 -23.3,37.3 C-24,35.3 -24.8,33.3 -24.3,31.5Z" fill="#000" stroke="none" stroke-width="0.0" stroke-linejoin="round" />
<path d="M-26.7,33.4 C-26.5,32.5 -25.3,31 -24.8,31.5 C-24.2,32 -23.9,34.9 -23.3,36.3 C-22.8,37.7 -21.4,39.3 -21.4,40.1 C-21.4,40.9 -22.6,41.6 -23.3,41.1 C-24.1,40.6 -25.2,38.5 -25.7,37.3 C-26.3,36 -26.9,34.4 -26.7,33.4Z" fill="#fff" stroke="none" stroke-width="0.0" stroke-linejoin="round" />
<path d="M-15.7,24.8 C-15,24.3 -12.6,24.6 -12.3,25.3 C-12,25.9 -13.1,28.1 -13.7,28.6 C-14.4,29.1 -15.8,28.8 -16.1,28.1 C-16.5,27.5 -16.3,25.3 -15.7,24.8Z" fill="#f0f0f0" stroke="none" stroke-width="0.0" stroke-linejoin="round" />
<path d="M-51.2,19 C-49.9,21.7 -46.1,29.9 -43.5,35.3 C-41,40.8 -38.4,46.2 -35.8,51.7 C-33.3,57.1 -29.4,65.3 -28.2,68" fill="none" stroke="#161616" stroke-width="1.7" stroke-linecap="round" />
<path d="M-38.7,50.7 C-37.6,50.9 -34.2,51.8 -32,51.7 C-29.8,51.5 -26.4,50.1 -25.3,49.8" fill="none" stroke="#161616" stroke-width="1.53" stroke-linecap="round" />
<path d="M-25.3,49.8 C-24.5,51.5 -22.1,56.6 -20.5,60.3 C-18.9,64 -16.5,69.9 -15.7,71.8" fill="none" stroke="#161616" stroke-width="1.87" stroke-linecap="round" />
<path d="M-35.8,52.6 C-34.9,54.1 -31.8,58.1 -30.1,61.3 C-28.3,64.5 -26.1,70.1 -25.3,71.8" fill="none" stroke="#161616" stroke-width="1.53" stroke-linecap="round" />
<path d="M-57.6,29.8L-46.9,20M-56.9,30.4L-43.1,23.1M-56.4,31.2L-40.3,27M-56.1,32.1L-38.6,31.4M-56,33L-38,36M-56.1,33.9L-38.6,40.6M-56.4,34.8L-40.3,45M-56.9,35.6L-43.1,48.9M-57.6,36.2L-46.9,52" fill="none" stroke="#555" stroke-width="1.02" stroke-linecap="round"/>
</g>
<path d="M79.8,-0.3 C81.6,-4 86.1,-3.3 90.2,-3.4 C94.4,-3.6 101.3,-2.4 104.8,-1.3 C108.4,-0.3 110.3,1.1 111.5,2.8 C112.7,4.5 112.5,7 112.1,9.1 C111.7,11.1 111.9,13.6 109,15.3 C106,17 99.3,18.9 94.4,19.5 C89.5,20 82.3,21.7 79.8,18.4 C77.4,15.1 78.1,3.3 79.8,-0.3Z" fill="#c6c6c6" stroke="#1e1e1e" stroke-width="1.87" stroke-linejoin="round" />
<ellipse cx="105.9" cy="7.4" rx="3.2" ry="7.5" transform="rotate(10 105.9 7.4)" fill="#aaa" stroke="#222" stroke-width="1.53" />
<path d="M80.9,1.8 C81.3,3 83.5,6.4 83.6,9.1 C83.7,11.7 81.8,16.3 81.5,17.8" fill="none" stroke="#1a1a1a" stroke-width="2.72" stroke-linecap="round" />
<path d="M88.2,-0.3 C89.5,-0.1 94.4,-0.1 96.5,0.7 C98.6,1.6 100,4.2 100.6,4.9" fill="none" stroke="#444" stroke-width="1.36" stroke-linecap="round" />
</g><clipPath id="sc5"><path d="M-69.7,-13.5 C-69.8,-18.2 -68.9,-22.6 -68.3,-25.7 C-67.8,-28.8 -66.9,-32.5 -65.6,-35.2 C-64.4,-37.9 -62,-41.9 -59.5,-44.7 C-57.1,-47.4 -50.8,-51.3 -48.7,-54.1 C-46.6,-56.9 -46.8,-61.9 -44.7,-64.3 C-42.5,-66.7 -37.7,-69.5 -33.8,-71 C-30,-72.5 -22.2,-74.1 -17.6,-74.8 C-13,-75.6 -6.2,-76.5 -1.4,-76.5 C3.5,-76.4 11.6,-75.5 16.2,-74.7 C20.9,-73.9 27.3,-72.8 31.1,-71 C35,-69.3 40,-65.2 43.3,-62.2 C46.6,-59.2 51.2,-54.1 54.1,-50.1 C57,-46 61.4,-39 63.6,-33.8 C65.8,-28.6 68.5,-19.3 69.7,-13.5 C70.9,-7.7 72,1.4 72,6.8 C72,12.2 70.9,19.7 69.7,24.4 C68.5,29 66.2,34.8 63.6,39.2 C61,43.7 55.3,51.6 51.4,55.5 C47.6,59.3 40.6,63.8 36.5,66.3 C32.5,68.8 26.5,71.6 23,73.1 C19.5,74.5 15.3,76.2 12.2,76.5 C9.1,76.7 5.2,75.3 1.4,74.7 C-2.5,74.1 -10.2,73.3 -14.9,72 C-19.5,70.6 -26.9,67.7 -31.1,65.2 C-35.4,62.7 -41.4,57.9 -44.7,54.4 C-47.9,50.9 -52.2,44.5 -54.1,40.9 C-56.1,37.3 -56.9,31.6 -58.2,29.1 C-59.5,26.5 -62,26.2 -63.3,23 C-64.6,19.8 -66.5,12 -67.4,6.8 C-68.3,1.5 -69.6,-8.9 -69.7,-13.5Z"/></clipPath>
<g id="sph5">
<path d="M-69.7,-13.5 C-69.8,-18.2 -68.9,-22.6 -68.3,-25.7 C-67.8,-28.8 -66.9,-32.5 -65.6,-35.2 C-64.4,-37.9 -62,-41.9 -59.5,-44.7 C-57.1,-47.4 -50.8,-51.3 -48.7,-54.1 C-46.6,-56.9 -46.8,-61.9 -44.7,-64.3 C-42.5,-66.7 -37.7,-69.5 -33.8,-71 C-30,-72.5 -22.2,-74.1 -17.6,-74.8 C-13,-75.6 -6.2,-76.5 -1.4,-76.5 C3.5,-76.4 11.6,-75.5 16.2,-74.7 C20.9,-73.9 27.3,-72.8 31.1,-71 C35,-69.3 40,-65.2 43.3,-62.2 C46.6,-59.2 51.2,-54.1 54.1,-50.1 C57,-46 61.4,-39 63.6,-33.8 C65.8,-28.6 68.5,-19.3 69.7,-13.5 C70.9,-7.7 72,1.4 72,6.8 C72,12.2 70.9,19.7 69.7,24.4 C68.5,29 66.2,34.8 63.6,39.2 C61,43.7 55.3,51.6 51.4,55.5 C47.6,59.3 40.6,63.8 36.5,66.3 C32.5,68.8 26.5,71.6 23,73.1 C19.5,74.5 15.3,76.2 12.2,76.5 C9.1,76.7 5.2,75.3 1.4,74.7 C-2.5,74.1 -10.2,73.3 -14.9,72 C-19.5,70.6 -26.9,67.7 -31.1,65.2 C-35.4,62.7 -41.4,57.9 -44.7,54.4 C-47.9,50.9 -52.2,44.5 -54.1,40.9 C-56.1,37.3 -56.9,31.6 -58.2,29.1 C-59.5,26.5 -62,26.2 -63.3,23 C-64.6,19.8 -66.5,12 -67.4,6.8 C-68.3,1.5 -69.6,-8.9 -69.7,-13.5Z" fill="#adadad" stroke="#111" stroke-width="1.8"/>
<g clip-path="url(#sc5)">
<path d="M-46,-60.9 C-44.7,-63.3 -38.6,-67.5 -33.8,-69.7 C-29.1,-71.8 -23.9,-73 -17.6,-73.7 C-11.3,-74.5 -0.9,-75 4.1,-74.4 C9,-73.9 13.5,-71.5 12.2,-70.4 C10.8,-69.2 0.9,-68.8 -4.1,-67.7 C-9,-66.5 -13.1,-65.4 -17.6,-63.6 C-22.1,-61.8 -27.1,-58.2 -31.1,-56.8 C-35.2,-55.5 -39.5,-54.8 -41.9,-55.5 C-44.4,-56.2 -47.4,-58.5 -46,-60.9Z" fill="#d2d2d2" stroke="#222" stroke-width="0.9" stroke-linejoin="round" />
<ellipse cx="-52.2" cy="-20.3" rx="34" ry="40" transform="rotate(0 -52.2 -20.3)" fill="#cdcdcd" stroke="#1a1a1a" stroke-width="1.0" /><path d="M-43,-17.4L-19.3,-17.7L-19.7,-13.6ZM-43.5,-11.9L-20.8,-8.5L-22,-4.6ZM-44.5,-6.8L-24.1,0L-26.1,3.4ZM-46,-2.5L-29,7.3L-31.7,10.1ZM-47.9,0.8L-35.3,13.1L-38.4,15ZM-50,2.8L-42.6,16.8L-46,17.8ZM-52.2,3.5L-50.4,18.4L-53.9,18.4ZM-54.4,2.8L-58.4,17.8L-61.8,16.8ZM-56.5,0.8L-65.9,15L-69,13.1ZM-58.4,-2.5L-72.7,10.1L-75.3,7.3ZM-59.8,-6.8L-78.3,3.4L-80.3,0ZM-60.9,-11.9L-82.4,-4.6L-83.6,-8.5ZM-61.4,-17.4L-84.7,-13.6L-85.1,-17.7ZM-61.4,-23.2L-85.1,-22.9L-84.7,-27ZM-60.9,-28.7L-83.6,-32.1L-82.4,-36ZM-59.8,-33.8L-80.3,-40.6L-78.3,-44ZM-58.4,-38.1L-75.3,-47.9L-72.7,-50.7ZM-56.5,-41.4L-69,-53.6L-65.9,-55.6ZM-54.4,-43.4L-61.8,-57.4L-58.4,-58.4ZM-52.2,-44.1L-53.9,-59L-50.4,-59ZM-50,-43.4L-46,-58.4L-42.6,-57.4ZM-47.9,-41.4L-38.4,-55.6L-35.3,-53.6ZM-46,-38.1L-31.7,-50.7L-29,-47.9ZM-44.5,-33.8L-26.1,-44L-24.1,-40.6ZM-43.5,-28.7L-22,-36L-20.8,-32.1ZM-43,-23.2L-19.7,-27L-19.3,-22.9Z" fill="#e4e4e4" stroke="#141414" stroke-width="1.25" stroke-linejoin="round" stroke-linecap="round"/><ellipse cx="-52.2" cy="-20.3" rx="8.7" ry="22.4" transform="rotate(0 -52.2 -20.3)" fill="#c2c2c2" stroke="none" stroke-width="0" /><ellipse cx="-52.2" cy="-20.3" rx="6" ry="14" transform="rotate(0 -52.2 -20.3)" fill="#b4b4b4" stroke="#0a0a0a" stroke-width="1.6" /><path d="M-50.4,-19.7L-46.9,-18.2M-50.6,-18.5L-47.5,-14.1M-51,-17.6L-48.7,-10.9M-51.6,-17L-50.3,-8.7M-52.2,-16.8L-52.2,-8M-52.8,-17L-54,-8.7M-53.3,-17.6L-55.7,-10.9M-53.7,-18.5L-56.9,-14.1M-54,-19.7L-57.5,-18.2M-54,-20.9L-57.5,-22.4M-53.7,-22L-56.9,-26.5M-53.3,-23L-55.7,-29.7M-52.8,-23.6L-54,-31.9M-52.2,-23.8L-52.2,-32.6M-51.6,-23.6L-50.3,-31.9M-51,-23L-48.7,-29.7M-50.6,-22L-47.5,-26.5M-50.4,-20.9L-46.9,-22.4" fill="none" stroke="#1a1a1a" stroke-width="0.85" stroke-linecap="round"/><ellipse cx="-52.2" cy="-20.3" rx="2" ry="3.6" transform="rotate(0 -52.2 -20.3)" fill="#7a7a7a" stroke="none" stroke-width="0" />
<ellipse cx="77.1" cy="36.5" rx="48" ry="44" transform="rotate(-20 77.1 36.5)" fill="#cdcdcd" stroke="#1a1a1a" stroke-width="1.0" /><path d="M95.1,31.7L121.7,23L122.6,26.8ZM95.4,34.9L123.2,31.8L123.2,35.8ZM94.9,38.2L122.7,40.8L121.8,44.8ZM93.6,41.4L120.2,49.7L118.5,53.4ZM91.6,44.4L115.9,57.9L113.4,61.3ZM89,47.1L109.8,65.2L106.7,68.1ZM85.9,49.3L102.3,71.3L98.7,73.5ZM82.4,50.9L93.7,75.9L89.7,77.3ZM78.6,51.9L84.4,78.7L80.2,79.4ZM74.8,52.3L74.8,79.7L70.6,79.5ZM71.1,51.9L65.3,78.8L61.2,77.8ZM67.6,50.9L56.3,76L52.6,74.3ZM64.6,49.2L48.2,71.6L45,69.1ZM62.1,47L41.3,65.6L38.8,62.5ZM60.3,44.4L36.1,58.3L34.3,54.8ZM59.2,41.4L32.6,50.1L31.7,46.3ZM58.9,38.1L31.1,41.3L31,37.3ZM59.4,34.9L31.6,32.2L32.4,28.3ZM60.6,31.6L34,23.4L35.7,19.7ZM62.6,28.6L38.4,15.2L40.9,11.8ZM65.2,26L44.5,7.8L47.6,5ZM68.4,23.8L51.9,1.8L55.6,-0.4ZM71.9,22.2L60.5,-2.8L64.6,-4.3ZM75.6,21.2L69.8,-5.6L74.1,-6.3ZM79.5,20.8L79.5,-6.6L83.7,-6.5ZM83.2,21.2L89,-5.7L93,-4.7ZM86.6,22.2L98,-3L101.7,-1.2ZM89.7,23.8L106.1,1.5L109.3,4ZM92.1,26L112.9,7.5L115.5,10.6ZM94,28.7L118.2,14.8L120,18.3Z" fill="#e4e4e4" stroke="#141414" stroke-width="1.25" stroke-linejoin="round" stroke-linecap="round"/><ellipse cx="77.1" cy="36.5" rx="17.4" ry="14.4" transform="rotate(-20 77.1 36.5)" fill="#c2c2c2" stroke="none" stroke-width="0" /><ellipse cx="77.1" cy="36.5" rx="12" ry="9" transform="rotate(-20 77.1 36.5)" fill="#b4b4b4" stroke="#0a0a0a" stroke-width="1.6" /><path d="M80.6,35.7L87.6,34.2M80.4,36.5L87.3,37.1M79.9,37.4L85.7,39.9M79,38.1L83.1,42.3M77.9,38.7L79.8,44M76.7,38.9L76.2,44.8M75.5,38.9L72.7,44.6M74.6,38.7L69.7,43.5M73.9,38.1L67.6,41.5M73.7,37.4L66.7,38.9M73.8,36.5L67,36M74.4,35.7L68.5,33.2M75.3,35L71.1,30.8M76.4,34.4L74.4,29.1M77.6,34.1L78.1,28.3M78.7,34.1L81.6,28.5M79.7,34.4L84.6,29.6M80.3,35L86.7,31.6" fill="none" stroke="#1a1a1a" stroke-width="0.85" stroke-linecap="round"/><ellipse cx="77.1" cy="36.5" rx="4.1" ry="2.3" transform="rotate(-20 77.1 36.5)" fill="#7a7a7a" stroke="none" stroke-width="0" />
<ellipse cx="18.9" cy="-28.4" rx="48" ry="41" transform="rotate(8 18.9 -28.4)" fill="#cdcdcd" stroke="#1a1a1a" stroke-width="1.0" /><path d="M53.1,-21.5L64.8,-20.2L64.1,-17.5ZM51.7,-17.6L63,-14.2L61.9,-11.7ZM49.4,-13.9L60.2,-8.5L58.6,-6.2ZM46.5,-10.6L56.3,-3.4L54.3,-1.3ZM42.8,-7.8L51.6,1.2L49.2,3ZM38.6,-5.4L46,5L43.3,6.4ZM33.9,-3.6L39.8,8L36.8,9ZM28.8,-2.5L33,10.1L29.9,10.7ZM23.4,-1.9L25.9,11.3L22.7,11.5ZM18,-2L18.6,11.4L15.4,11.2ZM12.6,-2.8L11.4,10.6L8.2,10ZM7.3,-4.2L4.3,8.9L1.3,7.8ZM2.3,-6.2L-2.4,6.2L-5.2,4.7ZM-2.2,-8.7L-8.6,2.7L-11.1,0.9ZM-6.3,-11.7L-14.1,-1.6L-16.3,-3.7ZM-9.7,-15.2L-18.8,-6.6L-20.6,-9ZM-12.4,-18.9L-22.6,-12.1L-23.9,-14.7ZM-14.4,-22.9L-25.3,-18L-26.2,-20.7ZM-15.5,-27L-27,-24.2L-27.3,-26.9ZM-15.8,-31.2L-27.5,-30.4L-27.4,-33.2ZM-15.2,-35.3L-26.9,-36.6L-26.2,-39.3ZM-13.8,-39.2L-25.1,-42.6L-24,-45.2ZM-11.6,-42.9L-22.3,-48.3L-20.7,-50.6ZM-8.6,-46.2L-18.4,-53.5L-16.5,-55.5ZM-4.9,-49.1L-13.7,-58L-11.3,-59.8ZM-0.7,-51.4L-8.1,-61.8L-5.4,-63.3ZM4,-53.2L-1.9,-64.8L1,-65.9ZM9.1,-54.4L4.9,-66.9L8,-67.6ZM14.4,-54.9L12,-68.1L15.2,-68.3ZM19.9,-54.8L19.2,-68.3L22.4,-68ZM25.3,-54L26.5,-67.5L29.6,-66.8ZM30.6,-52.7L33.6,-65.7L36.6,-64.6ZM35.5,-50.7L40.3,-63L43.1,-61.6ZM40.1,-48.1L46.5,-59.5L49,-57.7ZM44.2,-45.1L52,-55.2L54.2,-53.1ZM47.6,-41.7L56.7,-50.2L58.5,-47.9ZM50.3,-37.9L60.5,-44.7L61.8,-42.2ZM52.3,-33.9L63.2,-38.8L64.1,-36.2ZM53.4,-29.8L64.9,-32.7L65.2,-29.9ZM53.7,-25.6L65.4,-26.4L65.3,-23.7Z" fill="#e4e4e4" stroke="#141414" stroke-width="1.25" stroke-linejoin="round" stroke-linecap="round"/><ellipse cx="18.9" cy="-28.4" rx="32.6" ry="24.8" transform="rotate(8 18.9 -28.4)" fill="#c2c2c2" stroke="none" stroke-width="0" /><ellipse cx="18.9" cy="-28.4" rx="22.5" ry="15.5" transform="rotate(8 18.9 -28.4)" fill="#b4b4b4" stroke="#0a0a0a" stroke-width="1.6" /><path d="M25.4,-26.8L38.4,-23.3M24.5,-25.7L35.4,-19.2M22.8,-24.9L30.4,-16.3M20.7,-24.5L24,-14.8M18.4,-24.6L17,-14.9M16.2,-25.1L10.3,-16.7M14.2,-26.1L4.6,-19.9M12.9,-27.3L0.6,-24.1M12.3,-28.7L-1.1,-28.8M12.5,-30L-0.5,-33.5M13.4,-31.1L2.5,-37.6M15.1,-32L7.5,-40.6M17.2,-32.3L13.9,-42.1M19.5,-32.3L20.8,-41.9M21.7,-31.7L27.6,-40.1M23.7,-30.8L33.3,-37M25,-29.5L37.3,-32.7M25.6,-28.2L39,-28" fill="none" stroke="#1a1a1a" stroke-width="0.85" stroke-linecap="round"/><ellipse cx="18.9" cy="-28.4" rx="7.7" ry="4" transform="rotate(8 18.9 -28.4)" fill="#7a7a7a" stroke="none" stroke-width="0" />
<ellipse cx="-13.5" cy="32.5" rx="47" ry="41" transform="rotate(10 -13.5 32.5)" fill="#cdcdcd" stroke="#1a1a1a" stroke-width="1.0" /><path d="M21.2,41.4L31,42.1L30.3,44.8ZM19.7,44.8L29.1,48.1L27.9,50.6ZM17.4,47.8L26.1,53.6L24.5,55.9ZM14.3,50.6L22.1,58.7L20.1,60.7ZM10.6,52.9L17.3,63.1L14.9,64.8ZM6.2,54.7L11.7,66.7L9,68ZM1.4,56L5.5,69.5L2.6,70.5ZM-3.8,56.7L-1.2,71.4L-4.3,71.9ZM-9.2,56.9L-8.2,72.3L-11.3,72.4ZM-14.8,56.5L-15.3,72.3L-18.5,72ZM-20.3,55.5L-22.4,71.3L-25.5,70.5ZM-25.6,54L-29.3,69.3L-32.2,68.1ZM-30.6,52L-35.7,66.4L-38.4,64.8ZM-35.3,49.5L-41.7,62.7L-44.1,60.8ZM-39.4,46.6L-46.9,58.2L-48.9,56ZM-42.8,43.4L-51.3,53.1L-53,50.7ZM-45.5,40L-54.8,47.5L-56,44.9ZM-47.5,36.4L-57.3,41.5L-58,38.8ZM-48.6,32.7L-58.6,35.3L-58.9,32.5ZM-48.8,29.1L-58.9,29L-58.7,26.3ZM-48.2,25.5L-58.1,22.8L-57.4,20.2ZM-46.7,22.2L-56.1,16.9L-55,14.4ZM-44.4,19.1L-53.2,11.3L-51.5,9ZM-41.4,16.4L-49.2,6.3L-47.2,4.3ZM-37.6,14.1L-44.4,1.9L-42,0.2ZM-33.3,12.3L-38.8,-1.8L-36.1,-3.1ZM-28.5,11L-32.5,-4.6L-29.6,-5.5ZM-23.3,10.2L-25.9,-6.4L-22.8,-7ZM-17.9,10.1L-18.9,-7.4L-15.7,-7.5ZM-12.3,10.5L-11.7,-7.3L-8.6,-7ZM-6.8,11.4L-4.7,-6.3L-1.6,-5.5ZM-1.5,12.9L2.2,-4.3L5.1,-3.2ZM3.6,15L8.7,-1.4L11.4,0.1ZM8.2,17.4L14.6,2.3L17,4.2ZM12.3,20.3L19.8,6.8L21.9,8.9ZM15.8,23.5L24.2,11.9L25.9,14.3ZM18.5,26.9L27.7,17.5L28.9,20.1ZM20.4,30.5L30.2,23.5L30.9,26.2ZM21.5,34.2L31.6,29.7L31.8,32.4ZM21.8,37.9L31.9,35.9L31.6,38.7Z" fill="#e4e4e4" stroke="#141414" stroke-width="1.25" stroke-linejoin="round" stroke-linecap="round"/><ellipse cx="-13.5" cy="33.5" rx="33.4" ry="21.6" transform="rotate(10 -13.5 33.5)" fill="#c2c2c2" stroke="none" stroke-width="0" /><ellipse cx="-13.5" cy="33.5" rx="23" ry="13.5" transform="rotate(10 -13.5 33.5)" fill="#b4b4b4" stroke="#0a0a0a" stroke-width="1.6" /><path d="M-6.9,35.2L6.2,39M-7.9,36.2L3.1,42.4M-9.6,36.8L-2,44.7M-11.8,37L-8.5,45.7M-14.1,36.8L-15.6,45.2M-16.4,36.2L-22.4,43.2M-18.3,35.3L-28.2,40.1M-19.7,34.1L-32.2,36.2M-20.3,32.9L-34,32M-20.1,31.7L-33.2,27.9M-19.1,30.8L-30.2,24.5M-17.5,30.2L-25.1,22.2M-15.3,29.9L-18.6,21.3M-12.9,30.2L-11.5,21.8M-10.7,30.8L-4.6,23.7M-8.7,31.7L1.2,26.8M-7.4,32.9L5.2,30.7M-6.7,34.1L6.9,35" fill="none" stroke="#1a1a1a" stroke-width="0.85" stroke-linecap="round"/><ellipse cx="-13.5" cy="33.5" rx="7.8" ry="3.5" transform="rotate(10 -13.5 33.5)" fill="#7a7a7a" stroke="none" stroke-width="0" />
</g></g></defs>
<rect width="1249" height="1536" fill="#fff"/>
<path d="M315.5,1314.4 C319.1,1314.8 329.6,1316.4 336.8,1317 C344,1317.6 352.1,1317.5 358.9,1318.1 C365.6,1318.7 371.1,1319.3 377.3,1320.7 C383.5,1322.1 389.7,1324.4 395.8,1326.6 C401.9,1328.8 408.1,1331.7 414.2,1334 C420.3,1336.3 427.1,1339 432.6,1340.2 C438.1,1341.4 442.4,1341.4 447.3,1341.3 C452.2,1341.2 456.6,1341.1 462.1,1339.5 C467.6,1337.9 474.4,1335 480.5,1331.8 C486.6,1328.5 492.8,1323.9 498.9,1320 C505,1316.1 511.2,1311.5 517.3,1308.2 C523.4,1304.9 529.6,1302.3 535.7,1300.4 C541.8,1298.5 548,1297.8 554.1,1296.8 C560.2,1295.8 566.5,1295.1 572.6,1294.2 C578.8,1293.3 585.5,1292.3 591,1291.2 C596.5,1290.1 600.8,1289.3 605.7,1287.5 C610.6,1285.7 615.5,1283.6 620.4,1280.2 C625.3,1276.8 630.3,1271.5 635.2,1267.2 C640.1,1262.9 645,1258.4 649.9,1254.4 C654.8,1250.4 660.3,1246.2 664.6,1243.4 C668.9,1240.6 672.3,1239 675.7,1237.8 C679.1,1236.6 681.5,1236.3 684.9,1236.4 C688.3,1236.5 691.9,1236.7 695.9,1238.2 C699.9,1239.7 704.2,1242.2 708.8,1245.6 C713.4,1249 718.1,1253.3 723.6,1258.5 C729.1,1263.7 736.8,1271.3 742,1276.5 C747.2,1281.7 750.1,1285.8 754.7,1289.8 C759.3,1293.8 764.6,1297.6 769.5,1300.8 C774.4,1304 778.7,1306.5 784.2,1308.9 C789.7,1311.4 796.5,1313.7 802.6,1315.5 C808.7,1317.3 814.9,1318.5 821,1320 C827.1,1321.5 833.2,1323 839.4,1324.8 C845.5,1326.6 851.8,1328.2 857.9,1331 C864,1333.8 870.2,1337.7 876.3,1341.3 C882.4,1344.9 889.2,1349.2 894.7,1352.4 C900.2,1355.6 904.5,1358.4 909.4,1360.5 C914.3,1362.6 919.9,1364 924.2,1364.9 C928.5,1365.8 930.9,1366.1 935.2,1366 C939.5,1365.9 944.4,1365.4 949.9,1364.2 C955.4,1363 962.2,1360.6 968.4,1358.6 C974.5,1356.6 980.7,1353.8 986.8,1352 C992.9,1350.2 999.1,1348.6 1005.2,1347.6 C1011.3,1346.5 1017.5,1346.6 1023.6,1345.7 C1029.7,1344.8 1035.9,1343.6 1042,1342.1 C1048.1,1340.6 1054.2,1339.1 1060.4,1336.5 C1066.6,1333.9 1073.4,1330.1 1078.9,1326.6 C1084.4,1323.1 1088.7,1320 1093.6,1315.5 C1098.5,1311 1103.4,1305.1 1108.3,1299.7 C1113.2,1294.3 1118.2,1288 1123.1,1283.1 C1128,1278.2 1133.5,1273.1 1137.8,1270.2 C1142.1,1267.3 1145.4,1266.5 1148.8,1265.5 C1152.2,1264.5 1154.6,1263.8 1158,1264 C1161.4,1264.2 1165.4,1264.8 1169.1,1266.6 C1172.8,1268.4 1176.4,1271.8 1180.1,1275 C1183.8,1278.2 1189.3,1284.2 1191.2,1286.1 L1191.3,1372.6 L315.5,1372.6 Z" fill="#99a8e8"/>
<path d="M315.5,1314.4 C319.1,1314.8 329.6,1316.4 336.8,1317 C344,1317.6 352.1,1317.5 358.9,1318.1 C365.6,1318.7 371.1,1319.3 377.3,1320.7 C383.5,1322.1 389.7,1324.4 395.8,1326.6 C401.9,1328.8 408.1,1331.7 414.2,1334 C420.3,1336.3 427.1,1339 432.6,1340.2 C438.1,1341.4 442.4,1341.4 447.3,1341.3 C452.2,1341.2 456.6,1341.1 462.1,1339.5 C467.6,1337.9 474.4,1335 480.5,1331.8 C486.6,1328.5 492.8,1323.9 498.9,1320 C505,1316.1 511.2,1311.5 517.3,1308.2 C523.4,1304.9 529.6,1302.3 535.7,1300.4 C541.8,1298.5 548,1297.8 554.1,1296.8 C560.2,1295.8 566.5,1295.1 572.6,1294.2 C578.8,1293.3 585.5,1292.3 591,1291.2 C596.5,1290.1 600.8,1289.3 605.7,1287.5 C610.6,1285.7 615.5,1283.6 620.4,1280.2 C625.3,1276.8 630.3,1271.5 635.2,1267.2 C640.1,1262.9 645,1258.4 649.9,1254.4 C654.8,1250.4 660.3,1246.2 664.6,1243.4 C668.9,1240.6 672.3,1239 675.7,1237.8 C679.1,1236.6 681.5,1236.3 684.9,1236.4 C688.3,1236.5 691.9,1236.7 695.9,1238.2 C699.9,1239.7 704.2,1242.2 708.8,1245.6 C713.4,1249 718.1,1253.3 723.6,1258.5 C729.1,1263.7 736.8,1271.3 742,1276.5 C747.2,1281.7 750.1,1285.8 754.7,1289.8 C759.3,1293.8 764.6,1297.6 769.5,1300.8 C774.4,1304 778.7,1306.5 784.2,1308.9 C789.7,1311.4 796.5,1313.7 802.6,1315.5 C808.7,1317.3 814.9,1318.5 821,1320 C827.1,1321.5 833.2,1323 839.4,1324.8 C845.5,1326.6 851.8,1328.2 857.9,1331 C864,1333.8 870.2,1337.7 876.3,1341.3 C882.4,1344.9 889.2,1349.2 894.7,1352.4 C900.2,1355.6 904.5,1358.4 909.4,1360.5 C914.3,1362.6 919.9,1364 924.2,1364.9 C928.5,1365.8 930.9,1366.1 935.2,1366 C939.5,1365.9 944.4,1365.4 949.9,1364.2 C955.4,1363 962.2,1360.6 968.4,1358.6 C974.5,1356.6 980.7,1353.8 986.8,1352 C992.9,1350.2 999.1,1348.6 1005.2,1347.6 C1011.3,1346.5 1017.5,1346.6 1023.6,1345.7 C1029.7,1344.8 1035.9,1343.6 1042,1342.1 C1048.1,1340.6 1054.2,1339.1 1060.4,1336.5 C1066.6,1333.9 1073.4,1330.1 1078.9,1326.6 C1084.4,1323.1 1088.7,1320 1093.6,1315.5 C1098.5,1311 1103.4,1305.1 1108.3,1299.7 C1113.2,1294.3 1118.2,1288 1123.1,1283.1 C1128,1278.2 1133.5,1273.1 1137.8,1270.2 C1142.1,1267.3 1145.4,1266.5 1148.8,1265.5 C1152.2,1264.5 1154.6,1263.8 1158,1264 C1161.4,1264.2 1165.4,1264.8 1169.1,1266.6 C1172.8,1268.4 1176.4,1271.8 1180.1,1275 C1183.8,1278.2 1189.3,1284.2 1191.2,1286.1" fill="none" stroke="#4a4a55" stroke-width="0.7"/>
<clipPath id="plot"><rect x="315.5" y="0" width="933.5" height="1536"/></clipPath>
<g clip-path="url(#plot)"><path d="M296,810 C299.4,809.5 310.9,808.1 316.4,807.3 C321.9,806.4 324.9,805 329.2,804.9 C333.5,804.8 337.2,805.7 342,806.8 C346.8,807.9 352.7,810.3 358,811.6 C363.3,812.9 370,814.3 374,814.5 C378,814.7 379.3,814 382,813 C384.7,812 387.3,810.5 390,808.4 C392.7,806.3 395.3,803.2 398,800.4 C400.7,797.6 402,795.9 406,791.8 C410,787.6 417,780.5 422,775.5 C427,770.5 431,765.6 436,762 C441,758.4 446.3,752.7 452,754 C457.7,755.3 464,762.9 470,770 C476,777.1 483.7,790.7 488,796.8 C492.3,802.9 493.3,803.6 496,806.8 C498.7,810 501.3,812.9 504,816 C506.7,819.1 508,821.7 512,825.2 C516,828.8 522.7,834.7 528,837.3 C533.3,839.9 538.7,840.5 544,841 C549.3,841.5 554.7,840.4 560,840.5 C565.3,840.6 570.6,840.4 576,841.7 C581.4,843 588.1,846.3 592.1,848.4 C596.1,850.5 597.4,852.1 600.1,854.3 C602.8,856.5 605.4,859 608.1,861.7 C610.8,864.4 613.4,867.4 616.1,870.5 C618.8,873.6 621.4,877 624.1,880.4 C626.8,883.8 629.4,887.2 632.1,890.8 C634.8,894.3 636.3,896.8 640.1,901.7 C643.9,906.6 646.7,914.5 655,920 C663.3,925.5 678.3,937.5 690,935 C701.7,932.5 716.6,914 725,905 C733.4,896 736.7,887.3 740.5,881 C744.3,874.7 745.4,871.9 748,867.4 C750.6,862.9 753.4,858 756,853.8 C758.6,849.6 761.1,846 763.6,842.4 C766.1,838.8 768.5,835.2 770.9,832 C773.3,828.8 775.8,826 778.1,823.4 C780.4,820.8 782.6,818.5 784.7,816.6 C786.8,814.7 788.8,813.1 790.8,811.7 C792.8,810.3 794.7,809.2 796.7,808.3 C798.7,807.4 800.6,806.7 802.8,806.1 C805,805.5 807.4,805 809.8,804.6 C812.1,804.2 814.5,804 816.9,803.8 C819.3,803.6 821.3,803.8 824.4,803.5 C827.5,803.2 832,802.9 835.6,802.2 C839.2,801.5 842.5,800.6 845.9,799.3 C849.3,798 852.9,796.5 856.3,794.5 C859.7,792.5 863.1,790 866.2,787.3 C869.3,784.6 872.1,781.6 875,778.4 C877.9,775.2 880.6,771.7 883.3,768.3 C886,764.9 888.7,761.3 891.3,757.9 C893.9,754.5 895.9,752 899,748 C902.1,744 905.7,738.3 910,734 C914.3,729.7 920,724 925,722 C930,720 935.8,721.2 940,722 C944.2,722.8 947,724.8 950,727 C953,729.2 955.1,732.1 958,735 C960.9,737.9 964.2,741.4 967.2,744.2 C970.2,747 972.7,749.4 975.9,751.9 C979.1,754.4 982.7,757.3 986.4,759.2 C990.1,761.1 993.8,762.2 998.1,763.1 C1002.4,764 1007.9,764.3 1012.1,764.5 C1016.3,764.7 1019.8,764.4 1023.3,764.3 C1026.8,764.2 1029.9,763.9 1032.9,764 C1035.9,764.1 1039.2,764.4 1041.5,764.8 C1043.8,765.1 1045.1,765.4 1047,766.1 C1048.9,766.8 1050.9,768 1053,769.2 C1055.1,770.4 1057.4,771.6 1059.6,773.3 C1061.8,774.9 1063.9,776.9 1066.2,779.1 C1068.5,781.4 1070.8,783.9 1073.2,786.8 C1075.6,789.7 1078.1,792.9 1080.6,796.4 C1083.1,799.9 1085.5,803.7 1088.1,807.7 C1090.7,811.7 1093.4,815.9 1096,820.2 C1098.6,824.5 1101.2,829.2 1103.8,833.7 C1106.4,838.2 1109.1,842.5 1111.8,847.1 C1114.5,851.8 1117.1,856.8 1119.8,861.6 C1122.5,866.4 1125.1,871.2 1127.8,876 C1130.5,880.8 1132.3,884.8 1136,890.5 C1139.7,896.2 1142.7,904.2 1150,910 C1157.3,915.8 1175,922.5 1180,925" fill="none" stroke="#ed1c24" stroke-width="28.6"/>
<path d="M296,1017 C299.4,1017 311.4,1016.6 316.4,1016.7 C321.4,1016.8 323.1,1017.4 326,1017.4 C328.9,1017.4 331.3,1017 334,1016.5 C336.7,1016 339.3,1015.4 342,1014.7 C344.7,1014.1 347.3,1013.3 350,1012.6 C352.7,1011.9 355.3,1011.2 358,1010.6 C360.7,1010 363.3,1009.6 366,1009.3 C368.7,1009 371.4,1008.9 374.1,1009 C376.8,1009.1 379.4,1009.3 382.1,1009.8 C384.8,1010.3 387.4,1011.1 390.1,1012.1 C392.8,1013.1 395.7,1014.4 398.5,1016 C401.3,1017.6 404,1020 406.7,1021.8 C409.4,1023.6 411.6,1024.7 414.7,1026.6 C417.8,1028.5 421.3,1030.9 425,1033 C428.7,1035.1 433,1037.8 437,1039 C441,1040.2 444.9,1040.7 449,1040.5 C453.1,1040.3 457.9,1039 461.3,1037.7 C464.7,1036.5 466.6,1034.8 469.5,1033 C472.4,1031.2 475.2,1029.1 478.6,1026.6 C482,1024 486.8,1020.4 490,1017.7 C493.2,1015 495.3,1012.6 498,1010.5 C500.7,1008.4 503.3,1006.6 506,1004.9 C508.7,1003.2 511.3,1001.6 514,1000.5 C516.7,999.4 519.3,998.7 522,998.1 C524.7,997.5 527.3,997.2 530,997 C532.7,996.8 535.3,996.6 538,996.7 C540.7,996.8 543.3,997.1 546,997.4 C548.7,997.6 551.4,998 554.1,998.2 C556.8,998.4 559.4,998.6 562.1,998.7 C564.8,998.8 567.4,998.9 570.1,998.7 C572.8,998.6 575.4,998.2 578.1,997.8 C580.8,997.4 583.4,996.9 586.1,996.1 C588.8,995.4 591.4,994.4 594.1,993.3 C596.8,992.2 599.4,990.8 602.1,989.4 C604.8,988 607.4,986.6 610.1,984.9 C612.8,983.2 615.4,981.2 618.1,979.4 C620.8,977.6 623.4,975.8 626.1,974 C628.8,972.2 631,970.7 634.1,968.5 C637.2,966.3 640.7,964.1 645,961 C649.3,957.9 652.5,953.8 660,950 C667.5,946.2 680,936.8 690,938 C700,939.2 712.8,951.7 720,957 C727.2,962.3 729.5,966.6 733,970 C736.5,973.4 738.5,974.9 741.2,977.3 C743.9,979.7 746.5,981.9 749.2,984.2 C751.9,986.5 754.5,988.7 757.2,991 C759.9,993.3 762.5,995.8 765.2,998 C767.9,1000.2 770.5,1002.6 773.2,1004.5 C775.9,1006.4 778.5,1007.9 781.2,1009.3 C783.9,1010.6 786.5,1011.7 789.2,1012.6 C791.9,1013.5 794.6,1014.1 797.3,1014.6 C800,1015.1 802.6,1015.5 805.3,1015.7 C808,1015.9 809.8,1015.9 813.3,1015.9 C816.8,1015.9 822.6,1015.7 826.1,1015.7 C829.6,1015.7 831.4,1015.6 834.1,1015.7 C836.8,1015.8 839.4,1015.9 842.1,1016.3 C844.8,1016.7 847.4,1017.2 850.1,1017.9 C852.8,1018.6 855.4,1019.6 858.1,1020.7 C860.8,1021.8 863.4,1023.1 866.1,1024.5 C868.8,1025.9 871.4,1027.5 874.1,1029.1 C876.8,1030.7 879.4,1032.4 882.1,1034.2 C884.8,1036 887.4,1038 890.1,1039.9 C892.8,1041.8 895.4,1043.6 898.1,1045.4 C900.8,1047.2 903.4,1048.9 906.1,1050.8 C908.8,1052.7 911.1,1054.7 914.1,1056.6 C917.1,1058.5 920.7,1060.9 924,1062 C927.3,1063.1 930.5,1063.8 934,1063 C937.5,1062.2 941.7,1058.6 944.8,1056.9 C947.9,1055.2 950.1,1054.1 952.8,1052.7 C955.5,1051.3 958.1,1049.9 960.8,1048.6 C963.5,1047.3 966.1,1046 968.8,1044.7 C971.5,1043.4 974.1,1042.1 976.8,1041 C979.5,1039.9 982.1,1038.9 984.8,1038 C987.5,1037.1 990.1,1036.3 992.8,1035.8 C995.5,1035.3 998.1,1035 1000.8,1034.8 C1003.5,1034.6 1006.2,1034.7 1008.9,1034.8 C1011.6,1034.9 1014.2,1035.2 1016.9,1035.4 C1019.6,1035.6 1022.2,1035.9 1024.9,1036.1 C1027.6,1036.3 1030.2,1036.5 1032.9,1036.6 C1035.6,1036.7 1038.2,1036.7 1040.9,1036.6 C1043.6,1036.5 1046.2,1036.3 1048.9,1035.8 C1051.6,1035.3 1054.2,1034.5 1056.9,1033.6 C1059.6,1032.7 1062.2,1031.6 1064.9,1030.2 C1067.6,1028.8 1070.2,1027 1072.9,1025.3 C1075.6,1023.5 1078.2,1021.8 1080.9,1019.7 C1083.6,1017.7 1086.2,1015.3 1088.9,1013 C1091.6,1010.7 1094.2,1008.3 1096.9,1005.9 C1099.6,1003.5 1102.2,1000.9 1104.9,998.4 C1107.6,995.9 1110.2,993.4 1112.9,991 C1115.6,988.6 1118.2,986.2 1120.9,983.9 C1123.6,981.6 1126.3,979.3 1129,977.3 C1131.7,975.3 1134,973.9 1137,971.7 C1140,969.5 1143.2,967.3 1147,964 C1150.8,960.7 1154.5,957.7 1160,952 C1165.5,946.3 1176.7,933.7 1180,930" fill="none" stroke="#00aeef" stroke-width="28.6"/></g>
<path d="M315.6,223 L318,230 L321,232 L325,226 L329,210 L334,193 L338,188 L342,178 L347,164.4 L351,158 L356,155.4 L360,148 L364,146.8 L369,148.4 L373,141.6 L377.6,138.4 L382.4,142.4 L387,137 L391,128.4 L395,123 L400,116 L404.4,116 L409,138 L413,174 L417.6,210 L422.4,233 L426.4,233.6 L431,221 L435.6,207 L439.6,201 L444.4,204.4 L449,202 L453.6,191 L457.6,180 L462.4,188 L466,222 L471,239 L475.6,218 L480,205 L485,196 L493,178 L502,160 L506,158 L510,160.4 L515,159 L519.6,163 L524,186 L528.4,201 L533,204.4 L537.6,205.6 L541.6,202 L545.6,192 L550,187 L555,192.4 L559,205 L563.6,214.4 L568,215 L572.4,219 L577,228 L581.6,225.6 L585.6,208 L590,190 L594.4,176.4 L599,171.6 L603.6,169 L607.6,161.6 L612,154 L616.4,152 L621,153.6 L625.6,149 L630,142 L634.4,133 L639,129 L643.6,126 L647.6,115.6 L652.4,119 L656.4,154 L661,192 L665.6,215 L670,233 L674,249 L678.4,260 L683,265.6 L687.6,262 L692,246 L696.4,220 L700.4,204.4 L705,199.6 L709,194.4 L713.6,187.6 L718,183.6 L722.4,177 L727,171 L731.6,168.6 L736,163.6 L740,157 L745,158 L749.6,157 L754,153.6 L758,143 L762.4,138 L767,160 L771,210 L775.6,248 L780.4,260.4 L784.4,255 L789,235 L793.6,221.6 L798,219.6 L802.4,216 L806.4,203.6 L811,195 L815.6,189 L820,178.4 L824.4,178 L829,193 L833.6,207 L838,201 L842,180 L846.4,168 L851,162.4 L855.6,161 L860,163 L864.4,160.4 L869,159.6 L873.6,157 L878,158 L882.4,171 L886.4,202 L891,235.6 L895.6,232.4 L899.6,201 L904,183 L908.4,174.4 L913,175 L917.6,206 L922,232.4 L926.4,231 L930.4,222 L935,221 L939.6,227.6 L944,222.4 L948.4,210 L953,186 L957,164.4 L961.6,161.6 L966,163.6 L970.4,167 L975,165.6 L979.6,160.4 L983.6,153.6 L988,145.6 L992.4,143.6 L997,146.4 L1001.6,146 L1005.6,140 L1010,137 L1014.4,132.4 L1019,127.6 L1023.6,152 L1027.6,200 L1032,245 L1036.4,263 L1041,256 L1045.6,232 L1050,206 L1054,193.6 L1059,199.6 L1063,208 L1067.6,212.4 L1072,212 L1076.4,201 L1081,192.4 L1085.6,203.6 L1089.6,207.6 L1094,199 L1098.4,190 L1103,175 L1107.6,162 L1112,157 L1116.4,158 L1121,165 L1125.6,170 L1129.6,168.6 L1134,166 L1138.4,161 L1143,159 L1147.6,157.6 L1152,149.6 L1156,143 L1160.4,135.6 L1165,123.6 L1169.6,128 L1174,172 L1178,227 L1182.4,251 L1187,257 L1190.8,259.6" fill="none" stroke="#2e3192" stroke-width="4.2" stroke-linejoin="round" stroke-linecap="butt"/>
<path d="M315.9,413.8 C317.5,413.4 321.9,411.4 325.6,411.7 C329.4,412 334.1,412.8 338.4,415.6 C342.7,418.4 346.9,422.4 351.2,428.4 C355.5,434.4 359.7,443.6 364,451.5 C368.3,459.4 373.3,470.7 376.9,475.8 C380.4,480.9 382.5,482.6 385.3,482.2 C388.1,481.8 390.6,478.5 393.5,473.2 C396.4,467.9 398.9,459.6 402.5,450.2 C406.1,440.8 411,425.9 415.3,416.9 C419.6,407.9 424.2,401 428.1,396.4 C432,391.8 435.4,390.8 438.4,389.4 C441.4,388 443,387.6 446,387.9 C449,388.2 452.4,388.7 456.3,391.2 C460.2,393.7 464.8,397.9 469.1,402.8 C473.4,407.7 477.6,413.7 481.9,420.7 C486.2,427.7 490.4,436.7 494.7,445 C499,453.3 503.9,464.3 507.5,470.7 C511.1,477.1 514.1,480.9 516.5,483.5 C518.9,486.1 520,486.8 521.9,486.6 C523.8,486.4 525.3,486.1 528,482.2 C530.7,478.3 534.4,470.3 538.3,463 C542.1,455.7 546.8,444.8 551.1,438.6 C555.4,432.4 560,428.4 563.9,425.8 C567.8,423.2 570.8,423.1 574.2,423.3 C577.6,423.5 580.6,424.1 584.4,427.1 C588.2,430.1 592.9,435.4 597.2,441.2 C601.5,447 605.3,454.4 610,461.7 C614.7,469 621.3,478.8 625.6,484.8 C629.9,490.8 632.9,494.8 635.9,497.6 C638.9,500.4 641,501.3 643.6,501.4 C646.2,501.5 647.8,500.9 651.2,498.3 C654.6,495.7 659.7,489.6 664,486 C668.3,482.4 673.3,478.8 676.9,477 C680.5,475.2 682.8,475 685.8,475 C688.8,475 691.6,475.2 694.8,477 C698,478.8 701.6,482.1 705,486 C708.4,489.9 712.5,496.5 715.3,500.1 C718.1,503.7 720.1,506.3 721.7,507.8 C723.3,509.3 723.5,509.5 724.8,509.1 C726.1,508.7 727.1,508.7 729.4,505.3 C731.7,501.9 734.8,495.7 738.4,488.6 C742,481.6 746.9,470.7 751.2,463 C755.5,455.3 759.7,448.3 764,442.5 C768.3,436.7 772.5,432 776.8,428.4 C781.1,424.8 785.3,422.4 789.6,420.7 C793.9,419 798.5,418.2 802.4,418.1 C806.2,418 809.3,418.7 812.7,420.2 C816.1,421.7 819.5,423.8 822.9,427.1 C826.3,430.4 829.8,435.4 833.2,439.9 C836.6,444.4 840.4,450.4 843.4,454 C846.4,457.6 849,459.7 851.1,461.2 C853.2,462.7 854.3,463.1 856.2,463 C858.1,462.9 860.5,462.1 862.6,460.4 C864.7,458.7 866.2,457.4 869,452.7 C871.8,448 875.4,440.3 879.3,432.2 C883.1,424.1 888.3,411.2 892.1,404 C895.9,396.8 899.1,392.3 902.3,388.7 C905.5,385.1 908.3,383.7 911.3,382.3 C914.3,380.9 917.3,380.4 920.5,380.5 C923.7,380.6 927.3,381.6 930.7,383 C934.1,384.4 937.1,386.3 941,389.2 C944.9,392.1 949.5,395.8 953.8,400.2 C958.1,404.6 962.3,410.5 966.6,415.6 C970.9,420.7 975.5,426.9 979.4,431 C983.2,435.1 986.7,438 989.7,439.9 C992.7,441.8 994.9,442.5 997.4,442.5 C999.9,442.5 1002,442.2 1005,439.9 C1008,437.5 1011.4,433.3 1015.3,428.4 C1019.1,423.5 1024.2,415.2 1028.1,410.5 C1031.9,405.8 1035.2,402.3 1038.4,400.2 C1041.6,398.1 1044.3,397.5 1047.3,397.6 C1050.3,397.7 1053.1,398.6 1056.3,400.7 C1059.5,402.8 1062.7,406.1 1066.5,410.5 C1070.3,414.9 1075,421.6 1079.3,427.1 C1083.6,432.7 1087.9,438.7 1092.2,443.8 C1096.5,448.9 1100.7,453.4 1105,457.9 C1109.3,462.4 1114,467.2 1117.8,470.7 C1121.6,474.2 1124.8,477.1 1128,478.9 C1131.2,480.7 1134,481.6 1137,481.7 C1140,481.8 1142.8,481 1146,479.6 C1149.2,478.2 1152.8,475.2 1156.2,473.2 C1159.6,471.1 1163.5,468.6 1166.5,467.3 C1169.5,466 1171.5,465.5 1174.1,465.5 C1176.6,465.5 1179.1,466.1 1181.8,467.3 C1184.5,468.5 1188.9,471.6 1190.3,472.5" fill="none" stroke="#ec008c" stroke-width="3.7"/>
<path d="M315.5,95.5 H1191.3 V1395.5 M315.5,95.5 V277.6 M315.5,338.5 V520.7 M315.5,581 V1129.5 M315.5,1191 V1372.6 M315.5,1372.6 H1191.3 M298.5,119.4 H315.5 M298.5,198.4 H315.5 M298.5,277.6 H315.5 M307.3,158.8 H315.5 M307.3,238 H315.5 M298.5,380.5 H315.5 M298.5,520.7 H315.5 M307.3,352.6 H315.5 M307.3,408.8 H315.5 M307.3,436.7 H315.5 M307.3,464.6 H315.5 M307.3,492.5 H315.5 M298.5,612.5 H315.5 M298.5,743 H315.5 M298.5,871.5 H315.5 M298.5,1000.5 H315.5 M298.5,1129.5 H315.5 M307.3,678.5 H315.5 M307.3,807 H315.5 M307.3,936 H315.5 M307.3,1065 H315.5 M298.5,1191 H315.5 M298.5,1270.2 H315.5 M298.5,1349.4 H315.5 M307.3,1230.8 H315.5 M307.3,1309.6 H315.5 M440.3,1372.6 V1395.5 M691.2,1372.6 V1395.5 M941.1,1372.6 V1395.5 M315.5,1372.6 V1383.7 M565.9,1372.6 V1383.7 M816.2,1372.6 V1383.7 M1066,1372.6 V1383.7" fill="none" stroke="#000" stroke-width="1.45"/>
<path d="M747.8,941.8 L758.3,948.4 L810.6,981.6 L793.3,985.4 L814.4,998.9 L848.5,990.7 L841.3,956.1 L820.2,943.1 L823.6,960.9 L771.7,927.3 L740,907 Z" fill="#e9e9ea" stroke="#00aeef" stroke-width="3.7" stroke-linejoin="round"/>
<path d="M740,916.5 L753.4,900.9 L790.9,857.7 L772.2,859.6 L788,839.9 L824.1,837 L826.9,872.1 L810.6,892.2 L809.2,873.5 L758.3,935.5 L745,952 Z" fill="#e9e9ea" stroke="#ed1c24" stroke-width="3.7" stroke-linejoin="round"/>
<use href="#sph" filter="url(#grain)" transform="translate(460,700)"/><use href="#sph" filter="url(#grainB)" transform="translate(918.5,660.5) rotate(-55) scale(1.0) translate(3,1.4)"/><use href="#sphM" filter="url(#grainM)" transform="translate(688.3,932.6) rotate(-10) scale(0.685) translate(3,1.4)"/><use href="#sphS" filter="url(#grainS)" transform="translate(421.6,1062.4) rotate(12) scale(-0.47,0.47) translate(3,1.4)"/><use href="#sphS" filter="url(#grainS)" transform="translate(939,1090.3) rotate(-46.6) scale(-0.46,0.46) translate(3,1.4)"/><use href="#sph5" filter="url(#grainM)" transform="translate(1178.8,921.5)"/><circle cx="681.4" cy="956.7" r="6.2" fill="#000"/><circle cx="431.8" cy="1081.7" r="4.7" fill="#000"/><ellipse cx="957.4" cy="1101.2" rx="5" ry="6.3" transform="rotate(-25 957.4 1101.2)" fill="#000"/>
<path d="M140,227.9 L158.3,210 L158.3,191.1 L149.3,199.9 L149.3,96.1 L130.7,96.1 L130.7,199.9 L121.7,191.1 L121.7,210Z" fill="#2e3192" stroke="#2e3192" stroke-width="3.4" stroke-linejoin="round" />
<path d="M270,96.7 L288.3,114.6 L288.3,133.5 L279.3,124.7 L279.3,214.7 L260.7,214.7 L260.7,124.7 L251.7,133.5 L251.7,114.6Z" fill="#2e3192" stroke="#2e3192" stroke-width="3.4" stroke-linejoin="round" />
<path d="M263.2,374.5 L281.5,392.4 L281.5,411.3 L272.5,402.5 L272.5,493.2 L253.9,493.2 L253.9,402.5 L244.9,411.3 L244.9,392.4Z" fill="#ec008c" stroke="#ec008c" stroke-width="3.4" stroke-linejoin="round" />
<path d="M256.1,744.8 L274.4,762.7 L274.4,781.6 L265.4,772.8 L265.4,862.8 L246.8,862.8 L246.8,772.8 L237.8,781.6 L237.8,762.7Z" fill="#ed1c24" stroke="#ed1c24" stroke-width="3.4" stroke-linejoin="round" />
<path d="M257.6,942.5 L275.9,960.4 L275.9,979.3 L266.9,970.5 L266.9,1060.3 L248.3,1060.3 L248.3,970.5 L239.3,979.3 L239.3,960.4Z" fill="#00aeef" stroke="#00aeef" stroke-width="3.4" stroke-linejoin="round" />
<path d="M261.9,1251.6 L280.2,1269.5 L280.2,1288.4 L271.2,1279.6 L271.2,1370.1 L252.6,1370.1 L252.6,1279.6 L243.6,1288.4 L243.6,1269.5Z" fill="#8781bd" stroke="#8781bd" stroke-width="3.4" stroke-linejoin="round" />
<text x="220.76" y="42.2" fill="#2e3192" stroke="#2e3192" stroke-width="0.15" font-size="35" textLength="42.09" lengthAdjust="spacing">Ice</text>
<text x="221.79" y="77.0" fill="#2e3192" stroke="#2e3192" stroke-width="0.15" font-size="35" textLength="108.87" lengthAdjust="spacing">volume</text>
<text x="35.87" y="261.5" fill="#2e3192" stroke="#2e3192" stroke-width="0.15" font-size="35" textLength="79.37" lengthAdjust="spacing">Global</text>
<text x="36.2" y="296.5" fill="#2e3192" stroke="#2e3192" stroke-width="0.15" font-size="35" textLength="182.77" lengthAdjust="spacing">temperature</text>
<text x="50.69" y="391.8" fill="#ec008c" stroke="#ec008c" stroke-width="0.15" font-size="35" textLength="172.95" lengthAdjust="spacing">Eccentricity</text>
<text x="50.66" y="467.1" fill="#ec008c" stroke="#ec008c" stroke-width="0.15" font-size="35" textLength="174.89" lengthAdjust="spacing">Seasonality</text>
<text x="50.82" y="502.0" fill="#ec008c" stroke="#ec008c" stroke-width="0.15" font-size="35" textLength="139.0" lengthAdjust="spacing">(equator)</text>
<text x="136.6" y="429.5" fill="#ec008c" stroke="#ec008c" stroke-width="0.15" font-size="33" text-anchor="middle">&amp;</text>
<text y="780.2" fill="#ed1c24" stroke="#ed1c24" stroke-width="0.15" font-size="35"><tspan x="49.5" textLength="53.92" lengthAdjust="spacing">Size</tspan> <tspan x="106.31" textLength="24.8" lengthAdjust="spacing">of</tspan> <tspan x="137.62" textLength="61.88" lengthAdjust="spacing">large</tspan></text>
<text x="49.5" y="820.6" fill="#ed1c24" stroke="#ed1c24" stroke-width="0.15" font-size="35" textLength="149.82" lengthAdjust="spacing">coccoliths</text>
<text y="976.8" fill="#00aeef" stroke="#00aeef" stroke-width="0.15" font-size="35"><tspan x="55.88" textLength="54.09" lengthAdjust="spacing">Size</tspan> <tspan x="112.92" textLength="23.57" lengthAdjust="spacing">of</tspan> <tspan x="139.07" textLength="63.39" lengthAdjust="spacing">small</tspan></text>
<text x="55.78" y="1017.7" fill="#00aeef" stroke="#00aeef" stroke-width="0.15" font-size="35" textLength="149.01" lengthAdjust="spacing">coccoliths</text>
<text x="55.92" y="1289.6" fill="#8781bd" stroke="#8781bd" stroke-width="0.15" font-size="35" textLength="157.34" lengthAdjust="spacing">Limestone</text>
<text x="56.43" y="1324.5" fill="#8781bd" stroke="#8781bd" stroke-width="0.15" font-size="35" textLength="159.06" lengthAdjust="spacing">production</text>
<text x="55.67" y="1359.7" fill="#8781bd" stroke="#8781bd" stroke-width="0.15" font-size="35" textLength="173.41" lengthAdjust="spacing">(coccoliths)</text>
<text x="792.77" y="929.2" fill="#ed1c24" stroke="#ed1c24" stroke-width="0.15" font-size="35" textLength="212.01" lengthAdjust="spacing">Diversification</text>
<text x="361.24" y="1446.4" fill="#000" stroke="#000" stroke-width="0.2" font-size="43.5" textLength="110.23" lengthAdjust="spacingAndGlyphs">600000</text>
<text x="614.35" y="1450.3" fill="#000" stroke="#000" stroke-width="0.2" font-size="43.5" textLength="110.14" lengthAdjust="spacingAndGlyphs">400000</text>
<text x="870.65" y="1449.7" fill="#000" stroke="#000" stroke-width="0.2" font-size="43.5" textLength="109.13" lengthAdjust="spacingAndGlyphs">200000</text>
<text x="1179.42" y="1448.2" fill="#000" stroke="#000" stroke-width="0.2" font-size="43.5" textLength="18.06" lengthAdjust="spacingAndGlyphs">0</text>
<text y="1516.1" fill="#000" stroke="#000" stroke-width="0.2" font-size="43.5"><tspan x="579.02" textLength="73.18" lengthAdjust="spacingAndGlyphs">Time</tspan> <tspan x="660.41" textLength="96.42" lengthAdjust="spacingAndGlyphs">before</tspan> <tspan x="764.57" textLength="110.04" lengthAdjust="spacingAndGlyphs">present</tspan> <tspan x="885.85" textLength="96.61" lengthAdjust="spacingAndGlyphs">(years)</tspan></text>
</svg>
</body></html>
